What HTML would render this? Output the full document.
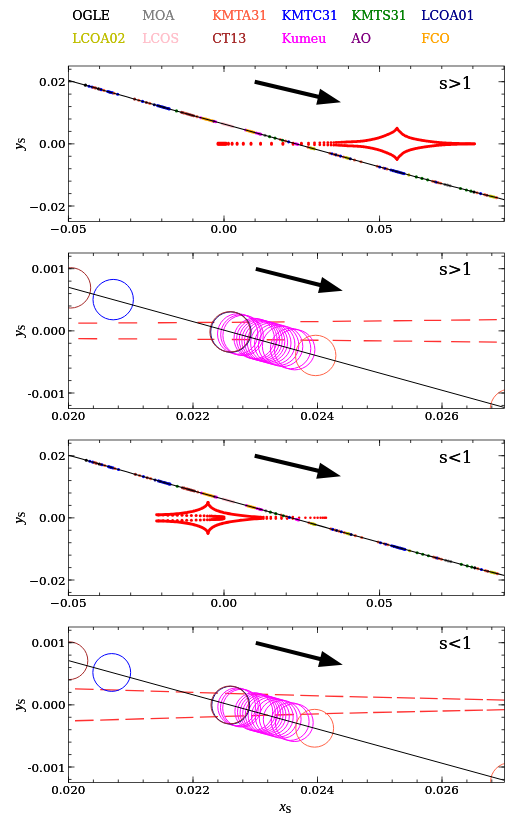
<!DOCTYPE html>
<html lang="en"><head><meta charset="utf-8"><title>Source trajectory and caustics</title>
<style>
html,body{margin:0;padding:0;background:#fff;}
body{width:531px;height:824px;overflow:hidden;}
svg{display:block;font-family:'DejaVu Serif','Liberation Serif',serif;}
</style></head><body>
<svg width="531" height="824" viewBox="0 0 531 824">
<rect width="531" height="824" fill="#fff"/>
<g id="legend">
</g>
<defs>
<filter id="bold" x="-2%" y="-2%" width="104%" height="104%" color-interpolation-filters="sRGB"><feOffset dx="0.45" dy="0" result="o"/><feMerge><feMergeNode in="SourceGraphic"/><feMergeNode in="o"/></feMerge></filter>
<clipPath id="c0"><rect x="68.5" y="66.0" width="436.0" height="155.5"/></clipPath>
<clipPath id="c1"><rect x="68.5" y="253.0" width="436.0" height="155.5"/></clipPath>
<clipPath id="c2"><rect x="68.5" y="440.0" width="436.0" height="155.5"/></clipPath>
<clipPath id="c3"><rect x="68.5" y="627.0" width="436.0" height="155.5"/></clipPath>
</defs>
<g id="panel0">
<circle cx="218" cy="143.25" r="1.4" fill="#ff0000"/>
<circle cx="218" cy="144.45" r="1.4" fill="#ff0000"/>
<circle cx="219" cy="143.25" r="1.4" fill="#ff0000"/>
<circle cx="219" cy="144.45" r="1.4" fill="#ff0000"/>
<circle cx="220" cy="143.25" r="1.4" fill="#ff0000"/>
<circle cx="220" cy="144.45" r="1.4" fill="#ff0000"/>
<circle cx="221" cy="143.25" r="1.4" fill="#ff0000"/>
<circle cx="221" cy="144.45" r="1.4" fill="#ff0000"/>
<circle cx="222" cy="143.25" r="1.4" fill="#ff0000"/>
<circle cx="222" cy="144.45" r="1.4" fill="#ff0000"/>
<circle cx="223" cy="143.25" r="1.4" fill="#ff0000"/>
<circle cx="223" cy="144.45" r="1.4" fill="#ff0000"/>
<circle cx="224" cy="143.25" r="1.4" fill="#ff0000"/>
<circle cx="224" cy="144.45" r="1.4" fill="#ff0000"/>
<circle cx="225" cy="143.25" r="1.4" fill="#ff0000"/>
<circle cx="225" cy="144.45" r="1.4" fill="#ff0000"/>
<circle cx="226" cy="143.25" r="1.4" fill="#ff0000"/>
<circle cx="226" cy="144.45" r="1.4" fill="#ff0000"/>
<circle cx="228.4" cy="143.25" r="1.4" fill="#ff0000"/>
<circle cx="228.4" cy="144.45" r="1.4" fill="#ff0000"/>
<circle cx="232.1" cy="143.25" r="1.4" fill="#ff0000"/>
<circle cx="232.1" cy="144.45" r="1.4" fill="#ff0000"/>
<circle cx="237.1" cy="143.25" r="1.4" fill="#ff0000"/>
<circle cx="237.1" cy="144.45" r="1.4" fill="#ff0000"/>
<circle cx="243.3" cy="143.25" r="1.4" fill="#ff0000"/>
<circle cx="243.3" cy="144.45" r="1.4" fill="#ff0000"/>
<circle cx="251" cy="143.25" r="1.4" fill="#ff0000"/>
<circle cx="251" cy="144.45" r="1.4" fill="#ff0000"/>
<circle cx="260.6" cy="143.25" r="1.4" fill="#ff0000"/>
<circle cx="260.6" cy="144.45" r="1.4" fill="#ff0000"/>
<circle cx="271.5" cy="143.25" r="1.4" fill="#ff0000"/>
<circle cx="271.5" cy="144.45" r="1.4" fill="#ff0000"/>
<circle cx="282.9" cy="143.25" r="1.4" fill="#ff0000"/>
<circle cx="282.9" cy="144.45" r="1.4" fill="#ff0000"/>
<circle cx="293.1" cy="143.25" r="1.4" fill="#ff0000"/>
<circle cx="293.1" cy="144.45" r="1.4" fill="#ff0000"/>
<circle cx="301.4" cy="143.24" r="1.4" fill="#ff0000"/>
<circle cx="301.4" cy="144.46" r="1.4" fill="#ff0000"/>
<circle cx="308.5" cy="143.08" r="1.4" fill="#ff0000"/>
<circle cx="308.5" cy="144.62" r="1.4" fill="#ff0000"/>
<circle cx="314.5" cy="142.96" r="1.4" fill="#ff0000"/>
<circle cx="314.5" cy="144.74" r="1.4" fill="#ff0000"/>
<circle cx="319.8" cy="142.85" r="1.4" fill="#ff0000"/>
<circle cx="319.8" cy="144.85" r="1.4" fill="#ff0000"/>
<circle cx="324" cy="142.77" r="1.4" fill="#ff0000"/>
<circle cx="324" cy="144.93" r="1.4" fill="#ff0000"/>
<circle cx="327.8" cy="142.7" r="1.4" fill="#ff0000"/>
<circle cx="327.8" cy="145" r="1.4" fill="#ff0000"/>
<circle cx="331" cy="142.63" r="1.4" fill="#ff0000"/>
<circle cx="331" cy="145.07" r="1.4" fill="#ff0000"/>
<circle cx="333.8" cy="142.56" r="1.4" fill="#ff0000"/>
<circle cx="333.8" cy="145.14" r="1.4" fill="#ff0000"/>
<circle cx="336.1" cy="142.48" r="1.4" fill="#ff0000"/>
<circle cx="336.1" cy="145.22" r="1.4" fill="#ff0000"/>
<circle cx="338.1" cy="142.39" r="1.4" fill="#ff0000"/>
<circle cx="338.1" cy="145.31" r="1.4" fill="#ff0000"/>
<circle cx="339.9" cy="142.31" r="1.4" fill="#ff0000"/>
<circle cx="339.9" cy="145.39" r="1.4" fill="#ff0000"/>
<circle cx="341.5" cy="142.23" r="1.4" fill="#ff0000"/>
<circle cx="341.5" cy="145.47" r="1.4" fill="#ff0000"/>
<circle cx="343" cy="142.15" r="1.4" fill="#ff0000"/>
<circle cx="343" cy="145.55" r="1.4" fill="#ff0000"/>
<circle cx="344.4" cy="142.08" r="1.4" fill="#ff0000"/>
<circle cx="344.4" cy="145.62" r="1.4" fill="#ff0000"/>
<polyline fill="none" stroke="#ff0000" stroke-width="2.8" stroke-linecap="round" stroke-linejoin="round" points="345,142.05 345.5,142.03 346,142 346.5,141.98 347,141.96 347.5,141.94 348,141.92 348.5,141.9 349,141.88 349.5,141.86 350,141.84 350.5,141.81 351,141.79 351.5,141.77 352,141.75 352.5,141.73 353,141.71 353.5,141.68 354,141.66 354.5,141.64 355,141.61 355.5,141.59 356,141.56 356.5,141.53 357,141.5 357.5,141.47 358,141.44 358.5,141.41 359,141.37 359.5,141.34 360,141.3 360.5,141.26 361,141.22 361.5,141.17 362,141.12 362.5,141.06 363,141 363.5,140.94 364,140.87 364.5,140.8 365,140.73 365.5,140.66 366,140.58 366.5,140.5 367,140.42 367.5,140.33 368,140.24 368.5,140.15 369,140.06 369.5,139.96 370,139.86 370.5,139.77 371,139.66 371.5,139.56 372,139.46 372.5,139.35 373,139.24 373.5,139.13 374,139.02 374.5,138.91 375,138.8 375.5,138.68 376,138.56 376.5,138.44 377,138.31 377.5,138.17 378,138.03 378.5,137.88 379,137.73 379.5,137.58 380,137.42 380.5,137.26 381,137.09 381.5,136.92 382,136.75 382.5,136.57 383,136.39 383.5,136.2 384,136.01 384.5,135.82 385,135.63 385.5,135.43 386,135.23 386.5,135.03 387,134.82 387.5,134.62 388,134.41 388.5,134.2 389,133.98 389.5,133.77 390,133.55 390.5,133.33 391,133.09 391.5,132.83 392,132.56 392.5,132.28 393,131.97 393.5,131.65 394,131.31 394.5,130.95 395,130.53 395.5,130.02 396,129.46 396.5,128.89 397,128.35"/>
<polyline fill="none" stroke="#ff0000" stroke-width="2.8" stroke-linecap="round" stroke-linejoin="round" points="397,128.35 397.5,129.03 398,129.7 398.5,130.33 399,130.88 399.5,131.38 400,131.85 400.5,132.32 401,132.8 401.5,133.28 402,133.74 402.5,134.16 403,134.54 403.5,134.85 404,135.12 404.5,135.39 405,135.64 405.5,135.89 406,136.13 406.5,136.36 407,136.58 407.5,136.79 408,137 408.5,137.19 409,137.38 409.5,137.56 410,137.72 410.5,137.88 411,138.03 411.5,138.17 412,138.3 412.5,138.42 413,138.54 413.5,138.66 414,138.78 414.5,138.89 415,139 415.5,139.11 416,139.22 416.5,139.32 417,139.42 417.5,139.52 418,139.62 418.5,139.72 419,139.81 419.5,139.9 420,139.99 420.5,140.08 421,140.17 421.5,140.25 422,140.34 422.5,140.42 423,140.5 423.5,140.58 424,140.65 424.5,140.73 425,140.8 425.5,140.87 426,140.95 426.5,141.02 427,141.08 427.5,141.15 428,141.22 428.5,141.29 429,141.35 429.5,141.41 430,141.48 430.5,141.54 431,141.6 431.5,141.66 432,141.73 432.5,141.79 433,141.85 433.5,141.91 434,141.96 434.5,142.02 435,142.08 435.5,142.13 436,142.19 436.5,142.24 437,142.29 437.5,142.34 438,142.39 438.5,142.44 439,142.49 439.5,142.54 440,142.58 440.5,142.63 441,142.67 441.5,142.71 442,142.75 442.5,142.79 443,142.82 443.5,142.86 444,142.89 444.5,142.92 445,142.95 445.5,142.98 446,143.01 446.5,143.03 447,143.06 447.5,143.08 448,143.11 448.5,143.13 449,143.16 449.5,143.18 450,143.2 450.5,143.22 451,143.25 451.5,143.27 452,143.29 452.5,143.31 453,143.33 453.5,143.34 454,143.36 454.5,143.38 455,143.4 455.5,143.41 456,143.43 456.5,143.45 457,143.46 457.5,143.48 458,143.49 458.5,143.51 459,143.52 459.5,143.54 460,143.55 460.5,143.56 461,143.58 461.5,143.59 462,143.6 462.5,143.61 463,143.62 463.5,143.64 464,143.65 464.5,143.66 465,143.67 465.5,143.68 466,143.69 466.5,143.7 467,143.71 467.5,143.72 468,143.73 468.5,143.74 469,143.74 469.5,143.75 470,143.76 470.5,143.77 471,143.78 471.5,143.79 472,143.8 472.5,143.81 473,143.82 473.5,143.83 474,143.84 474.5,143.85"/>
<polyline fill="none" stroke="#ff0000" stroke-width="2.8" stroke-linecap="round" stroke-linejoin="round" points="345,145.65 345.5,145.67 346,145.7 346.5,145.72 347,145.74 347.5,145.76 348,145.78 348.5,145.8 349,145.82 349.5,145.84 350,145.86 350.5,145.89 351,145.91 351.5,145.93 352,145.95 352.5,145.97 353,145.99 353.5,146.02 354,146.04 354.5,146.06 355,146.09 355.5,146.11 356,146.14 356.5,146.17 357,146.2 357.5,146.23 358,146.26 358.5,146.29 359,146.33 359.5,146.36 360,146.4 360.5,146.44 361,146.48 361.5,146.53 362,146.58 362.5,146.64 363,146.7 363.5,146.76 364,146.83 364.5,146.9 365,146.97 365.5,147.04 366,147.12 366.5,147.2 367,147.28 367.5,147.37 368,147.46 368.5,147.55 369,147.64 369.5,147.74 370,147.84 370.5,147.93 371,148.04 371.5,148.14 372,148.24 372.5,148.35 373,148.46 373.5,148.57 374,148.68 374.5,148.79 375,148.9 375.5,149.02 376,149.14 376.5,149.26 377,149.39 377.5,149.53 378,149.67 378.5,149.82 379,149.97 379.5,150.12 380,150.28 380.5,150.44 381,150.61 381.5,150.78 382,150.95 382.5,151.13 383,151.31 383.5,151.5 384,151.69 384.5,151.88 385,152.07 385.5,152.27 386,152.47 386.5,152.67 387,152.88 387.5,153.08 388,153.29 388.5,153.5 389,153.72 389.5,153.93 390,154.15 390.5,154.37 391,154.61 391.5,154.87 392,155.14 392.5,155.42 393,155.73 393.5,156.05 394,156.39 394.5,156.75 395,157.17 395.5,157.68 396,158.24 396.5,158.81 397,159.35"/>
<polyline fill="none" stroke="#ff0000" stroke-width="2.8" stroke-linecap="round" stroke-linejoin="round" points="397,159.35 397.5,158.67 398,158 398.5,157.37 399,156.82 399.5,156.32 400,155.85 400.5,155.38 401,154.9 401.5,154.42 402,153.96 402.5,153.54 403,153.16 403.5,152.85 404,152.58 404.5,152.31 405,152.06 405.5,151.81 406,151.57 406.5,151.34 407,151.12 407.5,150.91 408,150.7 408.5,150.51 409,150.32 409.5,150.14 410,149.98 410.5,149.82 411,149.67 411.5,149.53 412,149.4 412.5,149.28 413,149.16 413.5,149.04 414,148.92 414.5,148.81 415,148.7 415.5,148.59 416,148.48 416.5,148.38 417,148.28 417.5,148.18 418,148.08 418.5,147.98 419,147.89 419.5,147.8 420,147.71 420.5,147.62 421,147.53 421.5,147.45 422,147.36 422.5,147.28 423,147.2 423.5,147.12 424,147.05 424.5,146.97 425,146.9 425.5,146.83 426,146.75 426.5,146.68 427,146.62 427.5,146.55 428,146.48 428.5,146.41 429,146.35 429.5,146.29 430,146.22 430.5,146.16 431,146.1 431.5,146.04 432,145.97 432.5,145.91 433,145.85 433.5,145.79 434,145.74 434.5,145.68 435,145.62 435.5,145.57 436,145.51 436.5,145.46 437,145.41 437.5,145.36 438,145.31 438.5,145.26 439,145.21 439.5,145.16 440,145.12 440.5,145.07 441,145.03 441.5,144.99 442,144.95 442.5,144.91 443,144.88 443.5,144.84 444,144.81 444.5,144.78 445,144.75 445.5,144.72 446,144.69 446.5,144.67 447,144.64 447.5,144.62 448,144.59 448.5,144.57 449,144.54 449.5,144.52 450,144.5 450.5,144.48 451,144.45 451.5,144.43 452,144.41 452.5,144.39 453,144.37 453.5,144.36 454,144.34 454.5,144.32 455,144.3 455.5,144.29 456,144.27 456.5,144.25 457,144.24 457.5,144.22 458,144.21 458.5,144.19 459,144.18 459.5,144.16 460,144.15 460.5,144.14 461,144.12 461.5,144.11 462,144.1 462.5,144.09 463,144.08 463.5,144.06 464,144.05 464.5,144.04 465,144.03 465.5,144.02 466,144.01 466.5,144 467,143.99 467.5,143.98 468,143.97 468.5,143.96 469,143.96 469.5,143.95 470,143.94 470.5,143.93 471,143.92 471.5,143.91 472,143.9 472.5,143.89 473,143.88 473.5,143.87 474,143.86 474.5,143.85"/>
<g clip-path="url(#c0)">
<circle cx="85.5" cy="85.17" r="1.55" fill="#000000"/>
<circle cx="89.1" cy="86.19" r="1.55" fill="#0000ff"/>
<circle cx="92" cy="87.01" r="1.55" fill="#0000ff"/>
<circle cx="93.5" cy="87.44" r="1.55" fill="#a52a2a"/>
<circle cx="94.6" cy="87.75" r="1.55" fill="#ff6347"/>
<circle cx="95.7" cy="88.07" r="1.55" fill="#a52a2a"/>
<circle cx="98.5" cy="88.86" r="1.55" fill="#000000"/>
<circle cx="100.2" cy="89.34" r="1.55" fill="#a52a2a"/>
<circle cx="101.2" cy="89.63" r="1.55" fill="#0000ff"/>
<circle cx="103.9" cy="90.4" r="1.55" fill="#ff6347"/>
<circle cx="107.8" cy="91.5" r="1.55" fill="#0000ff"/>
<circle cx="109" cy="91.85" r="1.55" fill="#0000ff"/>
<circle cx="110.2" cy="92.19" r="1.55" fill="#00008b"/>
<circle cx="111.4" cy="92.53" r="1.55" fill="#0000ff"/>
<circle cx="112.6" cy="92.87" r="1.55" fill="#0000ff"/>
<circle cx="114.1" cy="93.3" r="1.55" fill="#ff6347"/>
<circle cx="117.7" cy="94.32" r="1.55" fill="#0000ff"/>
<circle cx="134.6" cy="99.12" r="1.55" fill="#a52a2a"/>
<circle cx="138.8" cy="100.31" r="1.55" fill="#ff6347"/>
<circle cx="142.6" cy="101.38" r="1.55" fill="#0000ff"/>
<circle cx="146.4" cy="102.46" r="1.55" fill="#a52a2a"/>
<circle cx="149.8" cy="103.42" r="1.55" fill="#ff6347"/>
<circle cx="154.3" cy="104.69" r="1.55" fill="#00008b"/>
<circle cx="157.7" cy="105.65" r="1.55" fill="#0000ff"/>
<circle cx="159.2" cy="106.07" r="1.55" fill="#00008b"/>
<circle cx="160.7" cy="106.49" r="1.55" fill="#00008b"/>
<circle cx="162.2" cy="106.91" r="1.55" fill="#0000ff"/>
<circle cx="163.7" cy="107.33" r="1.55" fill="#00008b"/>
<circle cx="165.2" cy="107.76" r="1.55" fill="#00008b"/>
<circle cx="166.7" cy="108.18" r="1.55" fill="#0000ff"/>
<circle cx="168.2" cy="108.6" r="1.55" fill="#00008b"/>
<circle cx="169.2" cy="108.88" r="1.55" fill="#0000ff"/>
<circle cx="176.5" cy="110.92" r="1.55" fill="#008000"/>
<circle cx="181.7" cy="112.37" r="1.55" fill="#a52a2a"/>
<circle cx="183.4" cy="112.85" r="1.55" fill="#a52a2a"/>
<circle cx="185.1" cy="113.32" r="1.55" fill="#ff6347"/>
<circle cx="186.8" cy="113.8" r="1.55" fill="#a52a2a"/>
<circle cx="188.5" cy="114.27" r="1.55" fill="#a52a2a"/>
<circle cx="190.2" cy="114.74" r="1.55" fill="#a52a2a"/>
<circle cx="191.9" cy="115.21" r="1.55" fill="#a52a2a"/>
<circle cx="193.6" cy="115.69" r="1.55" fill="#a52a2a"/>
<circle cx="197" cy="116.63" r="1.55" fill="#ff6347"/>
<circle cx="200.8" cy="117.69" r="1.55" fill="#ff00ff"/>
<circle cx="202.8" cy="118.24" r="1.55" fill="#ffa500"/>
<circle cx="204.4" cy="118.68" r="1.55" fill="#ffa500"/>
<circle cx="206" cy="119.13" r="1.55" fill="#ffa500"/>
<circle cx="207.6" cy="119.57" r="1.55" fill="#ffa500"/>
<circle cx="209.2" cy="120.01" r="1.55" fill="#ffa500"/>
<circle cx="210.8" cy="120.45" r="1.55" fill="#ffa500"/>
<circle cx="212.4" cy="120.9" r="1.55" fill="#ffa500"/>
<circle cx="214" cy="121.34" r="1.55" fill="#800080"/>
<circle cx="215.6" cy="121.78" r="1.55" fill="#ff00ff"/>
<circle cx="222.4" cy="123.66" r="1.55" fill="#ffc0cb"/>
<circle cx="224.1" cy="124.13" r="1.55" fill="#ffc0cb"/>
<circle cx="225.8" cy="124.6" r="1.55" fill="#ffc0cb"/>
<circle cx="227.5" cy="125.06" r="1.55" fill="#ffc0cb"/>
<circle cx="229.2" cy="125.53" r="1.55" fill="#ffc0cb"/>
<circle cx="230.9" cy="126" r="1.55" fill="#ffc0cb"/>
<circle cx="232.6" cy="126.47" r="1.55" fill="#ffc0cb"/>
<circle cx="245.7" cy="130.07" r="1.55" fill="#ff00ff"/>
<circle cx="247.2" cy="130.48" r="1.55" fill="#ffa500"/>
<circle cx="248.9" cy="130.95" r="1.55" fill="#ffa500"/>
<circle cx="250.6" cy="131.42" r="1.55" fill="#ffa500"/>
<circle cx="252.3" cy="131.88" r="1.55" fill="#ffa500"/>
<circle cx="254" cy="132.35" r="1.55" fill="#ffa500"/>
<circle cx="256.3" cy="132.98" r="1.55" fill="#ff00ff"/>
<circle cx="258.3" cy="133.53" r="1.55" fill="#ff00ff"/>
<circle cx="260" cy="134" r="1.55" fill="#800080"/>
<circle cx="260.9" cy="134.24" r="1.55" fill="#ff00ff"/>
<circle cx="265" cy="135.37" r="1.55" fill="#808080"/>
<circle cx="269.6" cy="136.63" r="1.55" fill="#008000"/>
<circle cx="275" cy="138.11" r="1.55" fill="#008000"/>
<circle cx="280.3" cy="139.56" r="1.55" fill="#ff6347"/>
<circle cx="282.6" cy="140.19" r="1.55" fill="#008000"/>
<circle cx="285.6" cy="141.01" r="1.55" fill="#ff6347"/>
<circle cx="288.6" cy="141.84" r="1.55" fill="#0000ff"/>
<circle cx="295.4" cy="143.7" r="1.55" fill="#ff00ff"/>
<circle cx="296.6" cy="144.03" r="1.55" fill="#ff00ff"/>
<circle cx="297.7" cy="144.33" r="1.55" fill="#ff00ff"/>
<circle cx="308.2" cy="147.21" r="1.55" fill="#ff6347"/>
<circle cx="310.5" cy="147.84" r="1.55" fill="#bfbf00"/>
<circle cx="311.8" cy="148.2" r="1.55" fill="#bfbf00"/>
<circle cx="313" cy="148.53" r="1.55" fill="#bfbf00"/>
<circle cx="314.2" cy="148.86" r="1.55" fill="#bfbf00"/>
<circle cx="330" cy="153.2" r="1.55" fill="#ff6347"/>
<circle cx="332" cy="153.75" r="1.55" fill="#0000ff"/>
<circle cx="334.3" cy="154.38" r="1.55" fill="#ff6347"/>
<circle cx="336" cy="154.85" r="1.55" fill="#00008b"/>
<circle cx="338.3" cy="155.49" r="1.55" fill="#ff6347"/>
<circle cx="340.5" cy="156.1" r="1.55" fill="#0000ff"/>
<circle cx="343.6" cy="156.95" r="1.55" fill="#ff6347"/>
<circle cx="346" cy="157.62" r="1.55" fill="#bfbf00"/>
<circle cx="347.3" cy="157.98" r="1.55" fill="#bfbf00"/>
<circle cx="348.5" cy="158.31" r="1.55" fill="#bfbf00"/>
<circle cx="350.3" cy="158.81" r="1.55" fill="#00008b"/>
<circle cx="354.5" cy="159.98" r="1.55" fill="#ff6347"/>
<circle cx="361" cy="161.78" r="1.55" fill="#ff6347"/>
<circle cx="377.4" cy="166.31" r="1.55" fill="#ff6347"/>
<circle cx="379.7" cy="166.95" r="1.55" fill="#0000ff"/>
<circle cx="383.5" cy="167.99" r="1.55" fill="#ff6347"/>
<circle cx="385.2" cy="168.46" r="1.55" fill="#0000ff"/>
<circle cx="387" cy="168.96" r="1.55" fill="#ff6347"/>
<circle cx="391" cy="170.05" r="1.55" fill="#0000ff"/>
<circle cx="393" cy="170.6" r="1.55" fill="#00008b"/>
<circle cx="394.6" cy="171.03" r="1.55" fill="#0000ff"/>
<circle cx="396.2" cy="171.47" r="1.55" fill="#00008b"/>
<circle cx="397.8" cy="171.91" r="1.55" fill="#00008b"/>
<circle cx="399.4" cy="172.34" r="1.55" fill="#0000ff"/>
<circle cx="401" cy="172.77" r="1.55" fill="#00008b"/>
<circle cx="402.6" cy="173.21" r="1.55" fill="#00008b"/>
<circle cx="404" cy="173.59" r="1.55" fill="#0000ff"/>
<circle cx="408.8" cy="174.88" r="1.55" fill="#bfbf00"/>
<circle cx="416.3" cy="176.88" r="1.55" fill="#008000"/>
<circle cx="422" cy="178.4" r="1.55" fill="#008000"/>
<circle cx="427.6" cy="179.87" r="1.55" fill="#008000"/>
<circle cx="432.8" cy="181.24" r="1.55" fill="#ff6347"/>
<circle cx="435" cy="181.82" r="1.55" fill="#a52a2a"/>
<circle cx="436.6" cy="182.24" r="1.55" fill="#0000ff"/>
<circle cx="438.2" cy="182.65" r="1.55" fill="#ff6347"/>
<circle cx="440.7" cy="183.31" r="1.55" fill="#ff6347"/>
<circle cx="445" cy="184.43" r="1.55" fill="#808080"/>
<circle cx="447.5" cy="185.08" r="1.55" fill="#808080"/>
<circle cx="450" cy="185.73" r="1.55" fill="#808080"/>
<circle cx="460.5" cy="188.44" r="1.55" fill="#008000"/>
<circle cx="466.4" cy="189.97" r="1.55" fill="#008000"/>
<circle cx="471" cy="191.16" r="1.55" fill="#008000"/>
<circle cx="474" cy="191.93" r="1.55" fill="#000000"/>
<circle cx="477" cy="192.7" r="1.55" fill="#ff6347"/>
<circle cx="480.6" cy="193.62" r="1.55" fill="#0000ff"/>
<circle cx="484.7" cy="194.67" r="1.55" fill="#ff6347"/>
<circle cx="487" cy="195.25" r="1.55" fill="#a52a2a"/>
<circle cx="490" cy="196.01" r="1.55" fill="#bfbf00"/>
<circle cx="491.4" cy="196.37" r="1.55" fill="#bfbf00"/>
<circle cx="492.8" cy="196.72" r="1.55" fill="#bfbf00"/>
<circle cx="494.2" cy="197.08" r="1.55" fill="#bfbf00"/>
<circle cx="496.5" cy="197.66" r="1.55" fill="#ff6347"/>
<polyline fill="none" stroke="#000" stroke-width="1.05" points="68.5,80.35 75.77,82.41 83.03,84.47 90.3,86.53 97.57,88.6 104.83,90.66 112.1,92.73 119.37,94.79 126.63,96.86 133.9,98.92 141.17,100.98 148.43,103.03 155.7,105.08 162.97,107.13 170.23,109.17 177.5,111.2 184.77,113.23 192.03,115.25 199.3,117.27 206.57,119.28 213.83,121.29 221.1,123.3 228.37,125.3 235.63,127.3 242.9,129.3 250.17,131.3 257.43,133.29 264.7,135.28 271.97,137.28 279.23,139.27 286.5,141.26 293.77,143.25 301.03,145.24 308.3,147.24 315.57,149.23 322.83,151.23 330.1,153.23 337.37,155.23 344.63,157.24 351.9,159.25 359.17,161.27 366.43,163.28 373.7,165.29 380.97,167.3 388.23,169.29 395.5,171.28 402.77,173.25 410.03,175.21 417.3,177.15 424.57,179.07 431.83,180.99 439.1,182.89 446.37,184.78 453.63,186.67 460.9,188.55 468.17,190.43 475.43,192.3 482.7,194.16 489.97,196 497.23,197.85 504.5,199.7"/>
</g>
<polygon fill="#000" points="254.24,83.65 317.67,98.71 316.22,104.84 341,102.2 320.05,88.69 318.6,94.82 255.16,79.75"/>
<rect x="68.5" y="66.0" width="436.0" height="155.5" fill="none" stroke="#000" stroke-width="0.72"/>
<line x1="68.45" y1="221.5" x2="68.45" y2="218.5" stroke="#000" stroke-width="0.8" />
<line x1="68.45" y1="66" x2="68.45" y2="69" stroke="#000" stroke-width="0.8" />
<line x1="99.56" y1="221.5" x2="99.56" y2="218.5" stroke="#000" stroke-width="0.8" />
<line x1="99.56" y1="66" x2="99.56" y2="69" stroke="#000" stroke-width="0.8" />
<line x1="130.67" y1="221.5" x2="130.67" y2="218.5" stroke="#000" stroke-width="0.8" />
<line x1="130.67" y1="66" x2="130.67" y2="69" stroke="#000" stroke-width="0.8" />
<line x1="161.78" y1="221.5" x2="161.78" y2="218.5" stroke="#000" stroke-width="0.8" />
<line x1="161.78" y1="66" x2="161.78" y2="69" stroke="#000" stroke-width="0.8" />
<line x1="192.89" y1="221.5" x2="192.89" y2="218.5" stroke="#000" stroke-width="0.8" />
<line x1="192.89" y1="66" x2="192.89" y2="69" stroke="#000" stroke-width="0.8" />
<line x1="224" y1="221.5" x2="224" y2="218.5" stroke="#000" stroke-width="0.8" />
<line x1="224" y1="66" x2="224" y2="69" stroke="#000" stroke-width="0.8" />
<line x1="255.11" y1="221.5" x2="255.11" y2="218.5" stroke="#000" stroke-width="0.8" />
<line x1="255.11" y1="66" x2="255.11" y2="69" stroke="#000" stroke-width="0.8" />
<line x1="286.22" y1="221.5" x2="286.22" y2="218.5" stroke="#000" stroke-width="0.8" />
<line x1="286.22" y1="66" x2="286.22" y2="69" stroke="#000" stroke-width="0.8" />
<line x1="317.33" y1="221.5" x2="317.33" y2="218.5" stroke="#000" stroke-width="0.8" />
<line x1="317.33" y1="66" x2="317.33" y2="69" stroke="#000" stroke-width="0.8" />
<line x1="348.44" y1="221.5" x2="348.44" y2="218.5" stroke="#000" stroke-width="0.8" />
<line x1="348.44" y1="66" x2="348.44" y2="69" stroke="#000" stroke-width="0.8" />
<line x1="379.55" y1="221.5" x2="379.55" y2="218.5" stroke="#000" stroke-width="0.8" />
<line x1="379.55" y1="66" x2="379.55" y2="69" stroke="#000" stroke-width="0.8" />
<line x1="410.66" y1="221.5" x2="410.66" y2="218.5" stroke="#000" stroke-width="0.8" />
<line x1="410.66" y1="66" x2="410.66" y2="69" stroke="#000" stroke-width="0.8" />
<line x1="441.77" y1="221.5" x2="441.77" y2="218.5" stroke="#000" stroke-width="0.8" />
<line x1="441.77" y1="66" x2="441.77" y2="69" stroke="#000" stroke-width="0.8" />
<line x1="472.88" y1="221.5" x2="472.88" y2="218.5" stroke="#000" stroke-width="0.8" />
<line x1="472.88" y1="66" x2="472.88" y2="69" stroke="#000" stroke-width="0.8" />
<line x1="503.99" y1="221.5" x2="503.99" y2="218.5" stroke="#000" stroke-width="0.8" />
<line x1="503.99" y1="66" x2="503.99" y2="69" stroke="#000" stroke-width="0.8" />
<line x1="68.45" y1="221.5" x2="68.45" y2="215.5" stroke="#000" stroke-width="0.75" />
<line x1="68.45" y1="66" x2="68.45" y2="72" stroke="#000" stroke-width="0.75" />
<line x1="224" y1="221.5" x2="224" y2="215.5" stroke="#000" stroke-width="0.75" />
<line x1="224" y1="66" x2="224" y2="72" stroke="#000" stroke-width="0.75" />
<line x1="379.55" y1="221.5" x2="379.55" y2="215.5" stroke="#000" stroke-width="0.75" />
<line x1="379.55" y1="66" x2="379.55" y2="72" stroke="#000" stroke-width="0.75" />
<line x1="68.5" y1="218.44" x2="71.5" y2="218.44" stroke="#000" stroke-width="0.8" />
<line x1="504.5" y1="218.44" x2="501.5" y2="218.44" stroke="#000" stroke-width="0.8" />
<line x1="68.5" y1="206.01" x2="71.5" y2="206.01" stroke="#000" stroke-width="0.8" />
<line x1="504.5" y1="206.01" x2="501.5" y2="206.01" stroke="#000" stroke-width="0.8" />
<line x1="68.5" y1="193.58" x2="71.5" y2="193.58" stroke="#000" stroke-width="0.8" />
<line x1="504.5" y1="193.58" x2="501.5" y2="193.58" stroke="#000" stroke-width="0.8" />
<line x1="68.5" y1="181.15" x2="71.5" y2="181.15" stroke="#000" stroke-width="0.8" />
<line x1="504.5" y1="181.15" x2="501.5" y2="181.15" stroke="#000" stroke-width="0.8" />
<line x1="68.5" y1="168.71" x2="71.5" y2="168.71" stroke="#000" stroke-width="0.8" />
<line x1="504.5" y1="168.71" x2="501.5" y2="168.71" stroke="#000" stroke-width="0.8" />
<line x1="68.5" y1="156.28" x2="71.5" y2="156.28" stroke="#000" stroke-width="0.8" />
<line x1="504.5" y1="156.28" x2="501.5" y2="156.28" stroke="#000" stroke-width="0.8" />
<line x1="68.5" y1="143.85" x2="71.5" y2="143.85" stroke="#000" stroke-width="0.8" />
<line x1="504.5" y1="143.85" x2="501.5" y2="143.85" stroke="#000" stroke-width="0.8" />
<line x1="68.5" y1="131.42" x2="71.5" y2="131.42" stroke="#000" stroke-width="0.8" />
<line x1="504.5" y1="131.42" x2="501.5" y2="131.42" stroke="#000" stroke-width="0.8" />
<line x1="68.5" y1="118.99" x2="71.5" y2="118.99" stroke="#000" stroke-width="0.8" />
<line x1="504.5" y1="118.99" x2="501.5" y2="118.99" stroke="#000" stroke-width="0.8" />
<line x1="68.5" y1="106.55" x2="71.5" y2="106.55" stroke="#000" stroke-width="0.8" />
<line x1="504.5" y1="106.55" x2="501.5" y2="106.55" stroke="#000" stroke-width="0.8" />
<line x1="68.5" y1="94.12" x2="71.5" y2="94.12" stroke="#000" stroke-width="0.8" />
<line x1="504.5" y1="94.12" x2="501.5" y2="94.12" stroke="#000" stroke-width="0.8" />
<line x1="68.5" y1="81.69" x2="71.5" y2="81.69" stroke="#000" stroke-width="0.8" />
<line x1="504.5" y1="81.69" x2="501.5" y2="81.69" stroke="#000" stroke-width="0.8" />
<line x1="68.5" y1="69.26" x2="71.5" y2="69.26" stroke="#000" stroke-width="0.8" />
<line x1="504.5" y1="69.26" x2="501.5" y2="69.26" stroke="#000" stroke-width="0.8" />
<line x1="68.5" y1="81.69" x2="74.5" y2="81.69" stroke="#000" stroke-width="0.75" />
<line x1="504.5" y1="81.69" x2="498.5" y2="81.69" stroke="#000" stroke-width="0.75" />
<line x1="68.5" y1="143.85" x2="74.5" y2="143.85" stroke="#000" stroke-width="0.75" />
<line x1="504.5" y1="143.85" x2="498.5" y2="143.85" stroke="#000" stroke-width="0.75" />
<line x1="68.5" y1="206.01" x2="74.5" y2="206.01" stroke="#000" stroke-width="0.75" />
<line x1="504.5" y1="206.01" x2="498.5" y2="206.01" stroke="#000" stroke-width="0.75" />
</g>
<g id="panel2">
<polyline fill="none" stroke="#ff0000" stroke-width="2.9" stroke-linecap="round" stroke-linejoin="round" points="156.6,514.75 158.79,514.73 160.94,514.69 163.06,514.63 165.14,514.56 167.19,514.47 169.2,514.36 171.16,514.24 173.09,514.1 174.98,513.95 176.82,513.78 178.63,513.6 180.38,513.4 182.1,513.19 183.77,512.96 185.39,512.72 186.96,512.47 188.49,512.19 189.96,511.91 191.39,511.61 192.76,511.3 194.08,510.97 195.35,510.64 196.57,510.28 197.73,509.92 198.83,509.54 199.88,509.15 200.86,508.75 201.79,508.33 202.66,507.91 203.47,507.47 204.22,507.01 204.9,506.55 205.52,506.08 206.08,505.59 206.57,505.09 206.99,504.59 207.35,504.07 207.63,503.54 207.85,503 208,502.45"/>
<polyline fill="none" stroke="#ff0000" stroke-width="2.9" stroke-linecap="round" stroke-linejoin="round" points="208,502.45 208.18,503.11 208.41,503.74 208.69,504.36 209.03,504.95 209.42,505.53 209.87,506.09 210.37,506.63 210.93,507.15 211.54,507.65 212.22,508.14 212.95,508.61 213.74,509.07 214.59,509.51 215.5,509.93 216.47,510.34 217.5,510.74 218.6,511.12 219.75,511.49 220.97,511.85 222.25,512.2 223.59,512.54 225,512.86 226.48,513.18 228.02,513.48 229.62,513.78 231.29,514.06 233.03,514.34 234.84,514.61 236.71,514.88 238.66,515.13 240.67,515.39 242.75,515.63 244.91,515.87 247.13,516.11 249.43,516.34 251.79,516.57 254.23,516.79 256.75,517.01 259.34,517.23 262,517.45"/>
<polyline fill="none" stroke="#ff0000" stroke-width="2.9" stroke-linecap="round" stroke-linejoin="round" points="156.6,520.95 158.79,520.97 160.94,521.01 163.06,521.07 165.14,521.14 167.19,521.23 169.2,521.34 171.16,521.46 173.09,521.6 174.98,521.75 176.82,521.92 178.63,522.1 180.38,522.3 182.1,522.51 183.77,522.74 185.39,522.98 186.96,523.23 188.49,523.51 189.96,523.79 191.39,524.09 192.76,524.4 194.08,524.73 195.35,525.06 196.57,525.42 197.73,525.78 198.83,526.16 199.88,526.55 200.86,526.95 201.79,527.37 202.66,527.79 203.47,528.23 204.22,528.69 204.9,529.15 205.52,529.62 206.08,530.11 206.57,530.61 206.99,531.11 207.35,531.63 207.63,532.16 207.85,532.7 208,533.25"/>
<polyline fill="none" stroke="#ff0000" stroke-width="2.9" stroke-linecap="round" stroke-linejoin="round" points="208,533.25 208.18,532.59 208.41,531.96 208.69,531.34 209.03,530.75 209.42,530.17 209.87,529.61 210.37,529.07 210.93,528.55 211.54,528.05 212.22,527.56 212.95,527.09 213.74,526.63 214.59,526.19 215.5,525.77 216.47,525.36 217.5,524.96 218.6,524.58 219.75,524.21 220.97,523.85 222.25,523.5 223.59,523.16 225,522.84 226.48,522.52 228.02,522.22 229.62,521.92 231.29,521.64 233.03,521.36 234.84,521.09 236.71,520.82 238.66,520.57 240.67,520.31 242.75,520.07 244.91,519.83 247.13,519.59 249.43,519.36 251.79,519.13 254.23,518.91 256.75,518.69 259.34,518.47 262,518.25"/>
<circle cx="158.5" cy="514.99" r="1.5" fill="#ff0000"/>
<circle cx="158.5" cy="520.71" r="1.5" fill="#ff0000"/>
<circle cx="163.2" cy="515.06" r="1.5" fill="#ff0000"/>
<circle cx="163.2" cy="520.64" r="1.5" fill="#ff0000"/>
<circle cx="167.9" cy="515.14" r="1.5" fill="#ff0000"/>
<circle cx="167.9" cy="520.56" r="1.5" fill="#ff0000"/>
<circle cx="172.6" cy="515.21" r="1.5" fill="#ff0000"/>
<circle cx="172.6" cy="520.49" r="1.5" fill="#ff0000"/>
<circle cx="177.3" cy="515.28" r="1.5" fill="#ff0000"/>
<circle cx="177.3" cy="520.42" r="1.5" fill="#ff0000"/>
<circle cx="182" cy="515.36" r="1.5" fill="#ff0000"/>
<circle cx="182" cy="520.34" r="1.5" fill="#ff0000"/>
<circle cx="186.7" cy="515.43" r="1.5" fill="#ff0000"/>
<circle cx="186.7" cy="520.27" r="1.5" fill="#ff0000"/>
<circle cx="191.4" cy="515.48" r="1.5" fill="#ff0000"/>
<circle cx="191.4" cy="520.22" r="1.5" fill="#ff0000"/>
<circle cx="196.1" cy="515.6" r="1.5" fill="#ff0000"/>
<circle cx="196.1" cy="520.1" r="1.5" fill="#ff0000"/>
<circle cx="200.3" cy="515.72" r="1.5" fill="#ff0000"/>
<circle cx="200.3" cy="519.98" r="1.5" fill="#ff0000"/>
<circle cx="204.1" cy="515.84" r="1.5" fill="#ff0000"/>
<circle cx="204.1" cy="519.86" r="1.5" fill="#ff0000"/>
<circle cx="207.4" cy="515.96" r="1.5" fill="#ff0000"/>
<circle cx="207.4" cy="519.74" r="1.5" fill="#ff0000"/>
<circle cx="209.8" cy="516.05" r="1.5" fill="#ff0000"/>
<circle cx="209.8" cy="519.65" r="1.5" fill="#ff0000"/>
<circle cx="211.6" cy="516.12" r="1.5" fill="#ff0000"/>
<circle cx="211.6" cy="519.58" r="1.5" fill="#ff0000"/>
<circle cx="213" cy="516.19" r="1.5" fill="#ff0000"/>
<circle cx="213" cy="519.51" r="1.5" fill="#ff0000"/>
<circle cx="214.1" cy="516.24" r="1.5" fill="#ff0000"/>
<circle cx="214.1" cy="519.46" r="1.5" fill="#ff0000"/>
<circle cx="215" cy="516.29" r="1.5" fill="#ff0000"/>
<circle cx="215" cy="519.41" r="1.5" fill="#ff0000"/>
<circle cx="215.9" cy="516.34" r="1.5" fill="#ff0000"/>
<circle cx="215.9" cy="519.36" r="1.5" fill="#ff0000"/>
<circle cx="216.8" cy="516.39" r="1.5" fill="#ff0000"/>
<circle cx="216.8" cy="519.31" r="1.5" fill="#ff0000"/>
<circle cx="217.7" cy="516.45" r="1.5" fill="#ff0000"/>
<circle cx="217.7" cy="519.25" r="1.5" fill="#ff0000"/>
<circle cx="218.6" cy="516.51" r="1.5" fill="#ff0000"/>
<circle cx="218.6" cy="519.19" r="1.5" fill="#ff0000"/>
<circle cx="219.5" cy="516.57" r="1.5" fill="#ff0000"/>
<circle cx="219.5" cy="519.13" r="1.5" fill="#ff0000"/>
<circle cx="220.4" cy="516.65" r="1.5" fill="#ff0000"/>
<circle cx="220.4" cy="519.05" r="1.5" fill="#ff0000"/>
<circle cx="221.3" cy="516.73" r="1.5" fill="#ff0000"/>
<circle cx="221.3" cy="518.97" r="1.5" fill="#ff0000"/>
<circle cx="222.2" cy="516.82" r="1.5" fill="#ff0000"/>
<circle cx="222.2" cy="518.88" r="1.5" fill="#ff0000"/>
<circle cx="223.1" cy="516.94" r="1.5" fill="#ff0000"/>
<circle cx="223.1" cy="518.76" r="1.5" fill="#ff0000"/>
<circle cx="224" cy="517.09" r="1.5" fill="#ff0000"/>
<circle cx="224" cy="518.61" r="1.5" fill="#ff0000"/>
<circle cx="260.7" cy="517.1" r="1.3" fill="#ff0000"/>
<circle cx="260.7" cy="518.6" r="1.3" fill="#ff0000"/>
<circle cx="263.4" cy="517.1" r="1.3" fill="#ff0000"/>
<circle cx="263.4" cy="518.6" r="1.3" fill="#ff0000"/>
<circle cx="266.8" cy="517.1" r="1.3" fill="#ff0000"/>
<circle cx="266.8" cy="518.6" r="1.3" fill="#ff0000"/>
<circle cx="270.8" cy="517.1" r="1.3" fill="#ff0000"/>
<circle cx="270.8" cy="518.6" r="1.3" fill="#ff0000"/>
<circle cx="275.8" cy="517.1" r="1.3" fill="#ff0000"/>
<circle cx="275.8" cy="518.6" r="1.3" fill="#ff0000"/>
<circle cx="281.5" cy="517.1" r="1.3" fill="#ff0000"/>
<circle cx="281.5" cy="518.6" r="1.3" fill="#ff0000"/>
<circle cx="287.1" cy="517.1" r="1.3" fill="#ff0000"/>
<circle cx="287.1" cy="518.6" r="1.3" fill="#ff0000"/>
<circle cx="292.8" cy="517.1" r="1.3" fill="#ff0000"/>
<circle cx="292.8" cy="518.6" r="1.3" fill="#ff0000"/>
<circle cx="299.1" cy="517.85" r="1.25" fill="#ff0000"/>
<circle cx="305.4" cy="517.85" r="1.25" fill="#ff0000"/>
<circle cx="310.4" cy="517.85" r="1.25" fill="#ff0000"/>
<circle cx="314.5" cy="517.85" r="1.25" fill="#ff0000"/>
<circle cx="317.6" cy="517.85" r="1.25" fill="#ff0000"/>
<circle cx="320.6" cy="517.85" r="1.25" fill="#ff0000"/>
<circle cx="322.8" cy="517.85" r="1.25" fill="#ff0000"/>
<circle cx="324.6" cy="517.85" r="1.25" fill="#ff0000"/>
<circle cx="326" cy="517.85" r="1.25" fill="#ff0000"/>
<g clip-path="url(#c2)">
<circle cx="86.3" cy="460.28" r="1.55" fill="#000000"/>
<circle cx="89.9" cy="461.31" r="1.55" fill="#0000ff"/>
<circle cx="92.8" cy="462.14" r="1.55" fill="#0000ff"/>
<circle cx="94.3" cy="462.57" r="1.55" fill="#a52a2a"/>
<circle cx="95.4" cy="462.89" r="1.55" fill="#ff6347"/>
<circle cx="96.5" cy="463.2" r="1.55" fill="#a52a2a"/>
<circle cx="99.3" cy="464.01" r="1.55" fill="#000000"/>
<circle cx="101" cy="464.49" r="1.55" fill="#a52a2a"/>
<circle cx="102" cy="464.78" r="1.55" fill="#0000ff"/>
<circle cx="104.7" cy="465.55" r="1.55" fill="#ff6347"/>
<circle cx="108.6" cy="466.67" r="1.55" fill="#0000ff"/>
<circle cx="109.8" cy="467.01" r="1.55" fill="#0000ff"/>
<circle cx="111" cy="467.36" r="1.55" fill="#00008b"/>
<circle cx="112.2" cy="467.7" r="1.55" fill="#0000ff"/>
<circle cx="113.4" cy="468.04" r="1.55" fill="#0000ff"/>
<circle cx="114.9" cy="468.47" r="1.55" fill="#ff6347"/>
<circle cx="118.5" cy="469.5" r="1.55" fill="#0000ff"/>
<circle cx="135.4" cy="474.34" r="1.55" fill="#a52a2a"/>
<circle cx="139.6" cy="475.54" r="1.55" fill="#ff6347"/>
<circle cx="143.4" cy="476.62" r="1.55" fill="#0000ff"/>
<circle cx="147.2" cy="477.7" r="1.55" fill="#a52a2a"/>
<circle cx="150.6" cy="478.67" r="1.55" fill="#ff6347"/>
<circle cx="155.1" cy="479.95" r="1.55" fill="#00008b"/>
<circle cx="158.5" cy="480.92" r="1.55" fill="#0000ff"/>
<circle cx="160" cy="481.34" r="1.55" fill="#00008b"/>
<circle cx="161.5" cy="481.77" r="1.55" fill="#00008b"/>
<circle cx="163" cy="482.19" r="1.55" fill="#0000ff"/>
<circle cx="164.5" cy="482.62" r="1.55" fill="#00008b"/>
<circle cx="166" cy="483.04" r="1.55" fill="#00008b"/>
<circle cx="167.5" cy="483.47" r="1.55" fill="#0000ff"/>
<circle cx="169" cy="483.89" r="1.55" fill="#00008b"/>
<circle cx="170" cy="484.17" r="1.55" fill="#0000ff"/>
<circle cx="177.3" cy="486.23" r="1.55" fill="#008000"/>
<circle cx="182.5" cy="487.7" r="1.55" fill="#a52a2a"/>
<circle cx="184.2" cy="488.17" r="1.55" fill="#a52a2a"/>
<circle cx="185.9" cy="488.65" r="1.55" fill="#ff6347"/>
<circle cx="187.6" cy="489.13" r="1.55" fill="#a52a2a"/>
<circle cx="189.3" cy="489.6" r="1.55" fill="#a52a2a"/>
<circle cx="191" cy="490.08" r="1.55" fill="#a52a2a"/>
<circle cx="192.7" cy="490.56" r="1.55" fill="#a52a2a"/>
<circle cx="194.4" cy="491.03" r="1.55" fill="#a52a2a"/>
<circle cx="197.8" cy="491.98" r="1.55" fill="#ff6347"/>
<circle cx="201.6" cy="493.05" r="1.55" fill="#ff00ff"/>
<circle cx="203.6" cy="493.61" r="1.55" fill="#ffa500"/>
<circle cx="205.2" cy="494.05" r="1.55" fill="#ffa500"/>
<circle cx="206.8" cy="494.5" r="1.55" fill="#ffa500"/>
<circle cx="208.4" cy="494.95" r="1.55" fill="#ffa500"/>
<circle cx="210" cy="495.39" r="1.55" fill="#ffa500"/>
<circle cx="211.6" cy="495.84" r="1.55" fill="#ffa500"/>
<circle cx="213.2" cy="496.28" r="1.55" fill="#ffa500"/>
<circle cx="214.8" cy="496.73" r="1.55" fill="#800080"/>
<circle cx="216.4" cy="497.17" r="1.55" fill="#ff00ff"/>
<circle cx="223.2" cy="499.07" r="1.55" fill="#ffc0cb"/>
<circle cx="224.9" cy="499.54" r="1.55" fill="#ffc0cb"/>
<circle cx="226.6" cy="500.01" r="1.55" fill="#ffc0cb"/>
<circle cx="228.3" cy="500.48" r="1.55" fill="#ffc0cb"/>
<circle cx="230" cy="500.95" r="1.55" fill="#ffc0cb"/>
<circle cx="231.7" cy="501.43" r="1.55" fill="#ffc0cb"/>
<circle cx="233.4" cy="501.9" r="1.55" fill="#ffc0cb"/>
<circle cx="246.5" cy="505.53" r="1.55" fill="#ff00ff"/>
<circle cx="248" cy="505.94" r="1.55" fill="#ffa500"/>
<circle cx="249.7" cy="506.41" r="1.55" fill="#ffa500"/>
<circle cx="251.4" cy="506.88" r="1.55" fill="#ffa500"/>
<circle cx="253.1" cy="507.35" r="1.55" fill="#ffa500"/>
<circle cx="254.8" cy="507.82" r="1.55" fill="#ffa500"/>
<circle cx="257.1" cy="508.46" r="1.55" fill="#ff00ff"/>
<circle cx="259.1" cy="509.01" r="1.55" fill="#ff00ff"/>
<circle cx="260.8" cy="509.48" r="1.55" fill="#800080"/>
<circle cx="261.7" cy="509.73" r="1.55" fill="#ff00ff"/>
<circle cx="265.8" cy="510.87" r="1.55" fill="#808080"/>
<circle cx="270.4" cy="512.14" r="1.55" fill="#008000"/>
<circle cx="275.8" cy="513.63" r="1.55" fill="#008000"/>
<circle cx="281.1" cy="515.09" r="1.55" fill="#ff6347"/>
<circle cx="283.4" cy="515.73" r="1.55" fill="#008000"/>
<circle cx="286.4" cy="516.56" r="1.55" fill="#ff6347"/>
<circle cx="289.4" cy="517.39" r="1.55" fill="#0000ff"/>
<circle cx="296.2" cy="519.27" r="1.55" fill="#ff00ff"/>
<circle cx="297.4" cy="519.6" r="1.55" fill="#ff00ff"/>
<circle cx="298.5" cy="519.9" r="1.55" fill="#ff00ff"/>
<circle cx="309" cy="522.8" r="1.55" fill="#ff6347"/>
<circle cx="311.3" cy="523.44" r="1.55" fill="#bfbf00"/>
<circle cx="312.6" cy="523.8" r="1.55" fill="#bfbf00"/>
<circle cx="313.8" cy="524.13" r="1.55" fill="#bfbf00"/>
<circle cx="315" cy="524.46" r="1.55" fill="#bfbf00"/>
<circle cx="330.8" cy="528.84" r="1.55" fill="#ff6347"/>
<circle cx="332.8" cy="529.4" r="1.55" fill="#0000ff"/>
<circle cx="335.1" cy="530.04" r="1.55" fill="#ff6347"/>
<circle cx="336.8" cy="530.51" r="1.55" fill="#00008b"/>
<circle cx="339.1" cy="531.15" r="1.55" fill="#ff6347"/>
<circle cx="341.3" cy="531.76" r="1.55" fill="#0000ff"/>
<circle cx="344.4" cy="532.63" r="1.55" fill="#ff6347"/>
<circle cx="346.8" cy="533.3" r="1.55" fill="#bfbf00"/>
<circle cx="348.1" cy="533.66" r="1.55" fill="#bfbf00"/>
<circle cx="349.3" cy="534" r="1.55" fill="#bfbf00"/>
<circle cx="351.1" cy="534.5" r="1.55" fill="#00008b"/>
<circle cx="355.3" cy="535.67" r="1.55" fill="#ff6347"/>
<circle cx="361.8" cy="537.49" r="1.55" fill="#ff6347"/>
<circle cx="378.2" cy="542.06" r="1.55" fill="#ff6347"/>
<circle cx="380.5" cy="542.7" r="1.55" fill="#0000ff"/>
<circle cx="384.3" cy="543.75" r="1.55" fill="#ff6347"/>
<circle cx="386" cy="544.22" r="1.55" fill="#0000ff"/>
<circle cx="387.8" cy="544.72" r="1.55" fill="#ff6347"/>
<circle cx="391.8" cy="545.82" r="1.55" fill="#0000ff"/>
<circle cx="393.8" cy="546.37" r="1.55" fill="#00008b"/>
<circle cx="395.4" cy="546.81" r="1.55" fill="#0000ff"/>
<circle cx="397" cy="547.25" r="1.55" fill="#00008b"/>
<circle cx="398.6" cy="547.69" r="1.55" fill="#00008b"/>
<circle cx="400.2" cy="548.13" r="1.55" fill="#0000ff"/>
<circle cx="401.8" cy="548.57" r="1.55" fill="#00008b"/>
<circle cx="403.4" cy="549" r="1.55" fill="#00008b"/>
<circle cx="404.8" cy="549.38" r="1.55" fill="#0000ff"/>
<circle cx="409.6" cy="550.69" r="1.55" fill="#bfbf00"/>
<circle cx="417.1" cy="552.71" r="1.55" fill="#008000"/>
<circle cx="422.8" cy="554.23" r="1.55" fill="#008000"/>
<circle cx="428.4" cy="555.72" r="1.55" fill="#008000"/>
<circle cx="433.6" cy="557.1" r="1.55" fill="#ff6347"/>
<circle cx="435.8" cy="557.68" r="1.55" fill="#a52a2a"/>
<circle cx="437.4" cy="558.1" r="1.55" fill="#0000ff"/>
<circle cx="439" cy="558.52" r="1.55" fill="#ff6347"/>
<circle cx="441.5" cy="559.18" r="1.55" fill="#ff6347"/>
<circle cx="445.8" cy="560.31" r="1.55" fill="#808080"/>
<circle cx="448.3" cy="560.96" r="1.55" fill="#808080"/>
<circle cx="450.8" cy="561.62" r="1.55" fill="#808080"/>
<circle cx="461.3" cy="564.36" r="1.55" fill="#008000"/>
<circle cx="467.2" cy="565.9" r="1.55" fill="#008000"/>
<circle cx="471.8" cy="567.09" r="1.55" fill="#008000"/>
<circle cx="474.8" cy="567.87" r="1.55" fill="#000000"/>
<circle cx="477.8" cy="568.65" r="1.55" fill="#ff6347"/>
<circle cx="481.4" cy="569.57" r="1.55" fill="#0000ff"/>
<circle cx="485.5" cy="570.63" r="1.55" fill="#ff6347"/>
<circle cx="487.8" cy="571.22" r="1.55" fill="#a52a2a"/>
<circle cx="490.8" cy="571.99" r="1.55" fill="#bfbf00"/>
<circle cx="492.2" cy="572.34" r="1.55" fill="#bfbf00"/>
<circle cx="493.6" cy="572.7" r="1.55" fill="#bfbf00"/>
<circle cx="495" cy="573.06" r="1.55" fill="#bfbf00"/>
<circle cx="497.3" cy="573.65" r="1.55" fill="#ff6347"/>
<polyline fill="none" stroke="#000" stroke-width="1.05" points="68.5,455.2 75.77,457.27 83.03,459.35 90.3,461.43 97.57,463.51 104.83,465.59 112.1,467.67 119.37,469.75 126.63,471.83 133.9,473.91 141.17,475.98 148.43,478.05 155.7,480.12 162.97,482.18 170.23,484.24 177.5,486.29 184.77,488.33 192.03,490.37 199.3,492.4 206.57,494.43 213.83,496.46 221.1,498.48 228.37,500.5 235.63,502.52 242.9,504.53 250.17,506.54 257.43,508.55 264.7,510.56 271.97,512.57 279.23,514.58 286.5,516.59 293.77,518.59 301.03,520.6 308.3,522.61 315.57,524.62 322.83,526.63 330.1,528.65 337.37,530.67 344.63,532.69 351.9,534.72 359.17,536.75 366.43,538.78 373.7,540.81 380.97,542.83 388.23,544.84 395.5,546.84 402.77,548.83 410.03,550.8 417.3,552.76 424.57,554.7 431.83,556.63 439.1,558.55 446.37,560.45 453.63,562.36 460.9,564.25 468.17,566.15 475.43,568.04 482.7,569.91 489.97,571.77 497.23,573.63 504.5,575.5"/>
</g>
<polygon fill="#000" points="254.24,457.65 317.67,472.71 316.22,478.84 341,476.2 320.05,462.69 318.6,468.82 255.16,453.75"/>
<rect x="68.5" y="440.0" width="436.0" height="155.5" fill="none" stroke="#000" stroke-width="0.72"/>
<line x1="68.45" y1="595.5" x2="68.45" y2="592.5" stroke="#000" stroke-width="0.8" />
<line x1="68.45" y1="440" x2="68.45" y2="443" stroke="#000" stroke-width="0.8" />
<line x1="99.56" y1="595.5" x2="99.56" y2="592.5" stroke="#000" stroke-width="0.8" />
<line x1="99.56" y1="440" x2="99.56" y2="443" stroke="#000" stroke-width="0.8" />
<line x1="130.67" y1="595.5" x2="130.67" y2="592.5" stroke="#000" stroke-width="0.8" />
<line x1="130.67" y1="440" x2="130.67" y2="443" stroke="#000" stroke-width="0.8" />
<line x1="161.78" y1="595.5" x2="161.78" y2="592.5" stroke="#000" stroke-width="0.8" />
<line x1="161.78" y1="440" x2="161.78" y2="443" stroke="#000" stroke-width="0.8" />
<line x1="192.89" y1="595.5" x2="192.89" y2="592.5" stroke="#000" stroke-width="0.8" />
<line x1="192.89" y1="440" x2="192.89" y2="443" stroke="#000" stroke-width="0.8" />
<line x1="224" y1="595.5" x2="224" y2="592.5" stroke="#000" stroke-width="0.8" />
<line x1="224" y1="440" x2="224" y2="443" stroke="#000" stroke-width="0.8" />
<line x1="255.11" y1="595.5" x2="255.11" y2="592.5" stroke="#000" stroke-width="0.8" />
<line x1="255.11" y1="440" x2="255.11" y2="443" stroke="#000" stroke-width="0.8" />
<line x1="286.22" y1="595.5" x2="286.22" y2="592.5" stroke="#000" stroke-width="0.8" />
<line x1="286.22" y1="440" x2="286.22" y2="443" stroke="#000" stroke-width="0.8" />
<line x1="317.33" y1="595.5" x2="317.33" y2="592.5" stroke="#000" stroke-width="0.8" />
<line x1="317.33" y1="440" x2="317.33" y2="443" stroke="#000" stroke-width="0.8" />
<line x1="348.44" y1="595.5" x2="348.44" y2="592.5" stroke="#000" stroke-width="0.8" />
<line x1="348.44" y1="440" x2="348.44" y2="443" stroke="#000" stroke-width="0.8" />
<line x1="379.55" y1="595.5" x2="379.55" y2="592.5" stroke="#000" stroke-width="0.8" />
<line x1="379.55" y1="440" x2="379.55" y2="443" stroke="#000" stroke-width="0.8" />
<line x1="410.66" y1="595.5" x2="410.66" y2="592.5" stroke="#000" stroke-width="0.8" />
<line x1="410.66" y1="440" x2="410.66" y2="443" stroke="#000" stroke-width="0.8" />
<line x1="441.77" y1="595.5" x2="441.77" y2="592.5" stroke="#000" stroke-width="0.8" />
<line x1="441.77" y1="440" x2="441.77" y2="443" stroke="#000" stroke-width="0.8" />
<line x1="472.88" y1="595.5" x2="472.88" y2="592.5" stroke="#000" stroke-width="0.8" />
<line x1="472.88" y1="440" x2="472.88" y2="443" stroke="#000" stroke-width="0.8" />
<line x1="503.99" y1="595.5" x2="503.99" y2="592.5" stroke="#000" stroke-width="0.8" />
<line x1="503.99" y1="440" x2="503.99" y2="443" stroke="#000" stroke-width="0.8" />
<line x1="68.45" y1="595.5" x2="68.45" y2="589.5" stroke="#000" stroke-width="0.75" />
<line x1="68.45" y1="440" x2="68.45" y2="446" stroke="#000" stroke-width="0.75" />
<line x1="224" y1="595.5" x2="224" y2="589.5" stroke="#000" stroke-width="0.75" />
<line x1="224" y1="440" x2="224" y2="446" stroke="#000" stroke-width="0.75" />
<line x1="379.55" y1="595.5" x2="379.55" y2="589.5" stroke="#000" stroke-width="0.75" />
<line x1="379.55" y1="440" x2="379.55" y2="446" stroke="#000" stroke-width="0.75" />
<line x1="68.5" y1="592.44" x2="71.5" y2="592.44" stroke="#000" stroke-width="0.8" />
<line x1="504.5" y1="592.44" x2="501.5" y2="592.44" stroke="#000" stroke-width="0.8" />
<line x1="68.5" y1="580.01" x2="71.5" y2="580.01" stroke="#000" stroke-width="0.8" />
<line x1="504.5" y1="580.01" x2="501.5" y2="580.01" stroke="#000" stroke-width="0.8" />
<line x1="68.5" y1="567.58" x2="71.5" y2="567.58" stroke="#000" stroke-width="0.8" />
<line x1="504.5" y1="567.58" x2="501.5" y2="567.58" stroke="#000" stroke-width="0.8" />
<line x1="68.5" y1="555.15" x2="71.5" y2="555.15" stroke="#000" stroke-width="0.8" />
<line x1="504.5" y1="555.15" x2="501.5" y2="555.15" stroke="#000" stroke-width="0.8" />
<line x1="68.5" y1="542.71" x2="71.5" y2="542.71" stroke="#000" stroke-width="0.8" />
<line x1="504.5" y1="542.71" x2="501.5" y2="542.71" stroke="#000" stroke-width="0.8" />
<line x1="68.5" y1="530.28" x2="71.5" y2="530.28" stroke="#000" stroke-width="0.8" />
<line x1="504.5" y1="530.28" x2="501.5" y2="530.28" stroke="#000" stroke-width="0.8" />
<line x1="68.5" y1="517.85" x2="71.5" y2="517.85" stroke="#000" stroke-width="0.8" />
<line x1="504.5" y1="517.85" x2="501.5" y2="517.85" stroke="#000" stroke-width="0.8" />
<line x1="68.5" y1="505.42" x2="71.5" y2="505.42" stroke="#000" stroke-width="0.8" />
<line x1="504.5" y1="505.42" x2="501.5" y2="505.42" stroke="#000" stroke-width="0.8" />
<line x1="68.5" y1="492.99" x2="71.5" y2="492.99" stroke="#000" stroke-width="0.8" />
<line x1="504.5" y1="492.99" x2="501.5" y2="492.99" stroke="#000" stroke-width="0.8" />
<line x1="68.5" y1="480.55" x2="71.5" y2="480.55" stroke="#000" stroke-width="0.8" />
<line x1="504.5" y1="480.55" x2="501.5" y2="480.55" stroke="#000" stroke-width="0.8" />
<line x1="68.5" y1="468.12" x2="71.5" y2="468.12" stroke="#000" stroke-width="0.8" />
<line x1="504.5" y1="468.12" x2="501.5" y2="468.12" stroke="#000" stroke-width="0.8" />
<line x1="68.5" y1="455.69" x2="71.5" y2="455.69" stroke="#000" stroke-width="0.8" />
<line x1="504.5" y1="455.69" x2="501.5" y2="455.69" stroke="#000" stroke-width="0.8" />
<line x1="68.5" y1="443.26" x2="71.5" y2="443.26" stroke="#000" stroke-width="0.8" />
<line x1="504.5" y1="443.26" x2="501.5" y2="443.26" stroke="#000" stroke-width="0.8" />
<line x1="68.5" y1="455.69" x2="74.5" y2="455.69" stroke="#000" stroke-width="0.75" />
<line x1="504.5" y1="455.69" x2="498.5" y2="455.69" stroke="#000" stroke-width="0.75" />
<line x1="68.5" y1="517.85" x2="74.5" y2="517.85" stroke="#000" stroke-width="0.75" />
<line x1="504.5" y1="517.85" x2="498.5" y2="517.85" stroke="#000" stroke-width="0.75" />
<line x1="68.5" y1="580.01" x2="74.5" y2="580.01" stroke="#000" stroke-width="0.75" />
<line x1="504.5" y1="580.01" x2="498.5" y2="580.01" stroke="#000" stroke-width="0.75" />
</g>
<g id="panel1">
<g clip-path="url(#c1)">
<line x1="38.3" y1="323.36" x2="57.1" y2="323.26" stroke="#ff3030" stroke-width="1.3" />
<line x1="78.3" y1="323.15" x2="97.2" y2="323.05" stroke="#ff3030" stroke-width="1.3" />
<line x1="118.4" y1="322.94" x2="137.2" y2="322.85" stroke="#ff3030" stroke-width="1.3" />
<line x1="157.9" y1="322.74" x2="176.8" y2="322.64" stroke="#ff3030" stroke-width="1.3" />
<line x1="197.5" y1="322.52" x2="214.4" y2="322.42" stroke="#ff3030" stroke-width="1.3" />
<line x1="231.8" y1="322.31" x2="249.9" y2="322.18" stroke="#ff3030" stroke-width="1.3" />
<line x1="266.7" y1="322.04" x2="284.6" y2="321.87" stroke="#ff3030" stroke-width="1.3" />
<line x1="300.4" y1="321.71" x2="318.5" y2="321.53" stroke="#ff3030" stroke-width="1.3" />
<line x1="332.7" y1="321.38" x2="351" y2="321.2" stroke="#ff3030" stroke-width="1.3" />
<line x1="363.7" y1="321.07" x2="381.6" y2="320.89" stroke="#ff3030" stroke-width="1.3" />
<line x1="393.5" y1="320.77" x2="412.2" y2="320.58" stroke="#ff3030" stroke-width="1.3" />
<line x1="424.1" y1="320.46" x2="441.2" y2="320.28" stroke="#ff3030" stroke-width="1.3" />
<line x1="451.1" y1="320.18" x2="470.2" y2="319.98" stroke="#ff3030" stroke-width="1.3" />
<line x1="478.9" y1="319.88" x2="496.8" y2="319.7" stroke="#ff3030" stroke-width="1.3" />
<line x1="38.3" y1="338.44" x2="57.1" y2="338.54" stroke="#ff3030" stroke-width="1.3" />
<line x1="78.3" y1="338.65" x2="97.2" y2="338.75" stroke="#ff3030" stroke-width="1.3" />
<line x1="118.4" y1="338.86" x2="137.2" y2="338.95" stroke="#ff3030" stroke-width="1.3" />
<line x1="157.9" y1="339.06" x2="176.8" y2="339.16" stroke="#ff3030" stroke-width="1.3" />
<line x1="197.5" y1="339.28" x2="214.4" y2="339.38" stroke="#ff3030" stroke-width="1.3" />
<line x1="231.8" y1="339.49" x2="249.9" y2="339.62" stroke="#ff3030" stroke-width="1.3" />
<line x1="266.7" y1="339.76" x2="284.6" y2="339.93" stroke="#ff3030" stroke-width="1.3" />
<line x1="300.4" y1="340.09" x2="318.5" y2="340.27" stroke="#ff3030" stroke-width="1.3" />
<line x1="332.7" y1="340.42" x2="351" y2="340.6" stroke="#ff3030" stroke-width="1.3" />
<line x1="363.7" y1="340.73" x2="381.6" y2="340.91" stroke="#ff3030" stroke-width="1.3" />
<line x1="393.5" y1="341.03" x2="412.2" y2="341.22" stroke="#ff3030" stroke-width="1.3" />
<line x1="424.1" y1="341.34" x2="441.2" y2="341.52" stroke="#ff3030" stroke-width="1.3" />
<line x1="451.1" y1="341.62" x2="470.2" y2="341.82" stroke="#ff3030" stroke-width="1.3" />
<line x1="478.9" y1="341.92" x2="496.8" y2="342.1" stroke="#ff3030" stroke-width="1.3" />
<circle cx="70.5" cy="287.85" r="20.2" fill="none" stroke="#a52a2a" stroke-width="1.0"/>
<circle cx="113.2" cy="299.62" r="20.2" fill="none" stroke="#0000ff" stroke-width="1.0"/>
<circle cx="237.7" cy="333.95" r="20.2" fill="none" stroke="#ff00ff" stroke-width="1.0"/>
<circle cx="240.9" cy="334.83" r="20.2" fill="none" stroke="#ff00ff" stroke-width="1.0"/>
<circle cx="243.1" cy="335.44" r="20.2" fill="none" stroke="#ff00ff" stroke-width="1.0"/>
<circle cx="254.2" cy="338.5" r="20.2" fill="none" stroke="#ff00ff" stroke-width="1.0"/>
<circle cx="256.8" cy="339.21" r="20.2" fill="none" stroke="#ff00ff" stroke-width="1.0"/>
<circle cx="259.4" cy="339.93" r="20.2" fill="none" stroke="#ff00ff" stroke-width="1.0"/>
<circle cx="262" cy="340.65" r="20.2" fill="none" stroke="#ff00ff" stroke-width="1.0"/>
<circle cx="264.6" cy="341.36" r="20.2" fill="none" stroke="#ff00ff" stroke-width="1.0"/>
<circle cx="267.4" cy="342.13" r="20.2" fill="none" stroke="#ff00ff" stroke-width="1.0"/>
<circle cx="270.8" cy="343.07" r="20.2" fill="none" stroke="#ff00ff" stroke-width="1.0"/>
<circle cx="274.7" cy="344.15" r="20.2" fill="none" stroke="#ff00ff" stroke-width="1.0"/>
<circle cx="278.6" cy="345.22" r="20.2" fill="none" stroke="#ff00ff" stroke-width="1.0"/>
<circle cx="282.6" cy="346.32" r="20.2" fill="none" stroke="#ff00ff" stroke-width="1.0"/>
<circle cx="290.6" cy="348.53" r="20.2" fill="none" stroke="#ff00ff" stroke-width="1.0"/>
<circle cx="294.7" cy="349.66" r="20.2" fill="none" stroke="#ff00ff" stroke-width="1.0"/>
<circle cx="230.9" cy="332.07" r="20.2" fill="none" stroke="#00008b" stroke-width="1.0"/>
<circle cx="230.1" cy="331.85" r="20.2" fill="none" stroke="#a52a2a" stroke-width="1.0"/>
<circle cx="315.7" cy="355.45" r="20.2" fill="none" stroke="#ff6347" stroke-width="1.0"/>
<circle cx="510.4" cy="409.13" r="20.2" fill="none" stroke="#ff6347" stroke-width="1.0"/>
<line x1="68.5" y1="287.3" x2="504.5" y2="407.5" stroke="#000" stroke-width="1.0" />
</g>
<polygon fill="#000" points="255.31,270.84 319.52,287 317.98,293.11 342.8,290.8 322.04,277.01 320.5,283.12 256.29,266.96"/>
<rect x="68.5" y="253.0" width="436.0" height="155.5" fill="none" stroke="#000" stroke-width="0.72"/>
<line x1="68.5" y1="408.5" x2="68.5" y2="405.5" stroke="#000" stroke-width="0.8" />
<line x1="68.5" y1="253" x2="68.5" y2="256" stroke="#000" stroke-width="0.8" />
<line x1="93.4" y1="408.5" x2="93.4" y2="405.5" stroke="#000" stroke-width="0.8" />
<line x1="93.4" y1="253" x2="93.4" y2="256" stroke="#000" stroke-width="0.8" />
<line x1="118.3" y1="408.5" x2="118.3" y2="405.5" stroke="#000" stroke-width="0.8" />
<line x1="118.3" y1="253" x2="118.3" y2="256" stroke="#000" stroke-width="0.8" />
<line x1="143.2" y1="408.5" x2="143.2" y2="405.5" stroke="#000" stroke-width="0.8" />
<line x1="143.2" y1="253" x2="143.2" y2="256" stroke="#000" stroke-width="0.8" />
<line x1="168.1" y1="408.5" x2="168.1" y2="405.5" stroke="#000" stroke-width="0.8" />
<line x1="168.1" y1="253" x2="168.1" y2="256" stroke="#000" stroke-width="0.8" />
<line x1="193" y1="408.5" x2="193" y2="405.5" stroke="#000" stroke-width="0.8" />
<line x1="193" y1="253" x2="193" y2="256" stroke="#000" stroke-width="0.8" />
<line x1="217.9" y1="408.5" x2="217.9" y2="405.5" stroke="#000" stroke-width="0.8" />
<line x1="217.9" y1="253" x2="217.9" y2="256" stroke="#000" stroke-width="0.8" />
<line x1="242.8" y1="408.5" x2="242.8" y2="405.5" stroke="#000" stroke-width="0.8" />
<line x1="242.8" y1="253" x2="242.8" y2="256" stroke="#000" stroke-width="0.8" />
<line x1="267.7" y1="408.5" x2="267.7" y2="405.5" stroke="#000" stroke-width="0.8" />
<line x1="267.7" y1="253" x2="267.7" y2="256" stroke="#000" stroke-width="0.8" />
<line x1="292.6" y1="408.5" x2="292.6" y2="405.5" stroke="#000" stroke-width="0.8" />
<line x1="292.6" y1="253" x2="292.6" y2="256" stroke="#000" stroke-width="0.8" />
<line x1="317.5" y1="408.5" x2="317.5" y2="405.5" stroke="#000" stroke-width="0.8" />
<line x1="317.5" y1="253" x2="317.5" y2="256" stroke="#000" stroke-width="0.8" />
<line x1="342.4" y1="408.5" x2="342.4" y2="405.5" stroke="#000" stroke-width="0.8" />
<line x1="342.4" y1="253" x2="342.4" y2="256" stroke="#000" stroke-width="0.8" />
<line x1="367.3" y1="408.5" x2="367.3" y2="405.5" stroke="#000" stroke-width="0.8" />
<line x1="367.3" y1="253" x2="367.3" y2="256" stroke="#000" stroke-width="0.8" />
<line x1="392.2" y1="408.5" x2="392.2" y2="405.5" stroke="#000" stroke-width="0.8" />
<line x1="392.2" y1="253" x2="392.2" y2="256" stroke="#000" stroke-width="0.8" />
<line x1="417.1" y1="408.5" x2="417.1" y2="405.5" stroke="#000" stroke-width="0.8" />
<line x1="417.1" y1="253" x2="417.1" y2="256" stroke="#000" stroke-width="0.8" />
<line x1="442" y1="408.5" x2="442" y2="405.5" stroke="#000" stroke-width="0.8" />
<line x1="442" y1="253" x2="442" y2="256" stroke="#000" stroke-width="0.8" />
<line x1="466.9" y1="408.5" x2="466.9" y2="405.5" stroke="#000" stroke-width="0.8" />
<line x1="466.9" y1="253" x2="466.9" y2="256" stroke="#000" stroke-width="0.8" />
<line x1="491.8" y1="408.5" x2="491.8" y2="405.5" stroke="#000" stroke-width="0.8" />
<line x1="491.8" y1="253" x2="491.8" y2="256" stroke="#000" stroke-width="0.8" />
<line x1="68.5" y1="408.5" x2="68.5" y2="402.5" stroke="#000" stroke-width="0.75" />
<line x1="68.5" y1="253" x2="68.5" y2="259" stroke="#000" stroke-width="0.75" />
<line x1="193" y1="408.5" x2="193" y2="402.5" stroke="#000" stroke-width="0.75" />
<line x1="193" y1="253" x2="193" y2="259" stroke="#000" stroke-width="0.75" />
<line x1="317.5" y1="408.5" x2="317.5" y2="402.5" stroke="#000" stroke-width="0.75" />
<line x1="317.5" y1="253" x2="317.5" y2="259" stroke="#000" stroke-width="0.75" />
<line x1="442" y1="408.5" x2="442" y2="402.5" stroke="#000" stroke-width="0.75" />
<line x1="442" y1="253" x2="442" y2="259" stroke="#000" stroke-width="0.75" />
<line x1="68.5" y1="405.43" x2="71.5" y2="405.43" stroke="#000" stroke-width="0.8" />
<line x1="504.5" y1="405.43" x2="501.5" y2="405.43" stroke="#000" stroke-width="0.8" />
<line x1="68.5" y1="393" x2="71.5" y2="393" stroke="#000" stroke-width="0.8" />
<line x1="504.5" y1="393" x2="501.5" y2="393" stroke="#000" stroke-width="0.8" />
<line x1="68.5" y1="380.57" x2="71.5" y2="380.57" stroke="#000" stroke-width="0.8" />
<line x1="504.5" y1="380.57" x2="501.5" y2="380.57" stroke="#000" stroke-width="0.8" />
<line x1="68.5" y1="368.14" x2="71.5" y2="368.14" stroke="#000" stroke-width="0.8" />
<line x1="504.5" y1="368.14" x2="501.5" y2="368.14" stroke="#000" stroke-width="0.8" />
<line x1="68.5" y1="355.71" x2="71.5" y2="355.71" stroke="#000" stroke-width="0.8" />
<line x1="504.5" y1="355.71" x2="501.5" y2="355.71" stroke="#000" stroke-width="0.8" />
<line x1="68.5" y1="343.28" x2="71.5" y2="343.28" stroke="#000" stroke-width="0.8" />
<line x1="504.5" y1="343.28" x2="501.5" y2="343.28" stroke="#000" stroke-width="0.8" />
<line x1="68.5" y1="330.85" x2="71.5" y2="330.85" stroke="#000" stroke-width="0.8" />
<line x1="504.5" y1="330.85" x2="501.5" y2="330.85" stroke="#000" stroke-width="0.8" />
<line x1="68.5" y1="318.42" x2="71.5" y2="318.42" stroke="#000" stroke-width="0.8" />
<line x1="504.5" y1="318.42" x2="501.5" y2="318.42" stroke="#000" stroke-width="0.8" />
<line x1="68.5" y1="305.99" x2="71.5" y2="305.99" stroke="#000" stroke-width="0.8" />
<line x1="504.5" y1="305.99" x2="501.5" y2="305.99" stroke="#000" stroke-width="0.8" />
<line x1="68.5" y1="293.56" x2="71.5" y2="293.56" stroke="#000" stroke-width="0.8" />
<line x1="504.5" y1="293.56" x2="501.5" y2="293.56" stroke="#000" stroke-width="0.8" />
<line x1="68.5" y1="281.13" x2="71.5" y2="281.13" stroke="#000" stroke-width="0.8" />
<line x1="504.5" y1="281.13" x2="501.5" y2="281.13" stroke="#000" stroke-width="0.8" />
<line x1="68.5" y1="268.7" x2="71.5" y2="268.7" stroke="#000" stroke-width="0.8" />
<line x1="504.5" y1="268.7" x2="501.5" y2="268.7" stroke="#000" stroke-width="0.8" />
<line x1="68.5" y1="256.27" x2="71.5" y2="256.27" stroke="#000" stroke-width="0.8" />
<line x1="504.5" y1="256.27" x2="501.5" y2="256.27" stroke="#000" stroke-width="0.8" />
<line x1="68.5" y1="268.7" x2="74.5" y2="268.7" stroke="#000" stroke-width="0.75" />
<line x1="504.5" y1="268.7" x2="498.5" y2="268.7" stroke="#000" stroke-width="0.75" />
<line x1="68.5" y1="330.85" x2="74.5" y2="330.85" stroke="#000" stroke-width="0.75" />
<line x1="504.5" y1="330.85" x2="498.5" y2="330.85" stroke="#000" stroke-width="0.75" />
<line x1="68.5" y1="393" x2="74.5" y2="393" stroke="#000" stroke-width="0.75" />
<line x1="504.5" y1="393" x2="498.5" y2="393" stroke="#000" stroke-width="0.75" />
</g>
<g id="panel3">
<g clip-path="url(#c3)">
<line x1="49.8" y1="688.22" x2="68.5" y2="688.76" stroke="#ff3030" stroke-width="1.3" />
<line x1="75" y1="688.94" x2="93.6" y2="689.47" stroke="#ff3030" stroke-width="1.3" />
<line x1="100.2" y1="689.66" x2="118.9" y2="690.2" stroke="#ff3030" stroke-width="1.3" />
<line x1="125.4" y1="690.39" x2="144" y2="690.94" stroke="#ff3030" stroke-width="1.3" />
<line x1="150.6" y1="691.13" x2="169" y2="691.67" stroke="#ff3030" stroke-width="1.3" />
<line x1="175.8" y1="691.87" x2="193.4" y2="692.38" stroke="#ff3030" stroke-width="1.3" />
<line x1="199.9" y1="692.57" x2="218" y2="693.09" stroke="#ff3030" stroke-width="1.3" />
<line x1="225.2" y1="693.3" x2="244.4" y2="693.85" stroke="#ff3030" stroke-width="1.3" />
<line x1="251.2" y1="694.04" x2="268.1" y2="694.51" stroke="#ff3030" stroke-width="1.3" />
<line x1="274.9" y1="694.7" x2="294" y2="695.22" stroke="#ff3030" stroke-width="1.3" />
<line x1="300.3" y1="695.38" x2="318.9" y2="695.87" stroke="#ff3030" stroke-width="1.3" />
<line x1="325.2" y1="696.03" x2="343.3" y2="696.48" stroke="#ff3030" stroke-width="1.3" />
<line x1="349.6" y1="696.63" x2="367.7" y2="697.06" stroke="#ff3030" stroke-width="1.3" />
<line x1="373.1" y1="697.18" x2="391.9" y2="697.61" stroke="#ff3030" stroke-width="1.3" />
<line x1="396.9" y1="697.72" x2="415" y2="698.12" stroke="#ff3030" stroke-width="1.3" />
<line x1="419.9" y1="698.22" x2="437.7" y2="698.61" stroke="#ff3030" stroke-width="1.3" />
<line x1="442.6" y1="698.71" x2="460.3" y2="699.09" stroke="#ff3030" stroke-width="1.3" />
<line x1="464.7" y1="699.19" x2="483" y2="699.59" stroke="#ff3030" stroke-width="1.3" />
<line x1="486.7" y1="699.67" x2="506" y2="700.09" stroke="#ff3030" stroke-width="1.3" />
<line x1="49.8" y1="721.48" x2="68.5" y2="720.94" stroke="#ff3030" stroke-width="1.3" />
<line x1="75" y1="720.76" x2="93.6" y2="720.23" stroke="#ff3030" stroke-width="1.3" />
<line x1="100.2" y1="720.04" x2="118.9" y2="719.5" stroke="#ff3030" stroke-width="1.3" />
<line x1="125.4" y1="719.31" x2="144" y2="718.76" stroke="#ff3030" stroke-width="1.3" />
<line x1="150.6" y1="718.57" x2="169" y2="718.03" stroke="#ff3030" stroke-width="1.3" />
<line x1="175.8" y1="717.83" x2="193.4" y2="717.32" stroke="#ff3030" stroke-width="1.3" />
<line x1="199.9" y1="717.13" x2="218" y2="716.61" stroke="#ff3030" stroke-width="1.3" />
<line x1="225.2" y1="716.4" x2="244.4" y2="715.85" stroke="#ff3030" stroke-width="1.3" />
<line x1="251.2" y1="715.66" x2="268.1" y2="715.19" stroke="#ff3030" stroke-width="1.3" />
<line x1="274.9" y1="715" x2="294" y2="714.48" stroke="#ff3030" stroke-width="1.3" />
<line x1="300.3" y1="714.32" x2="318.9" y2="713.83" stroke="#ff3030" stroke-width="1.3" />
<line x1="325.2" y1="713.67" x2="343.3" y2="713.22" stroke="#ff3030" stroke-width="1.3" />
<line x1="349.6" y1="713.07" x2="367.7" y2="712.64" stroke="#ff3030" stroke-width="1.3" />
<line x1="373.1" y1="712.52" x2="391.9" y2="712.09" stroke="#ff3030" stroke-width="1.3" />
<line x1="396.9" y1="711.98" x2="415" y2="711.58" stroke="#ff3030" stroke-width="1.3" />
<line x1="419.9" y1="711.48" x2="437.7" y2="711.09" stroke="#ff3030" stroke-width="1.3" />
<line x1="442.6" y1="710.99" x2="460.3" y2="710.61" stroke="#ff3030" stroke-width="1.3" />
<line x1="464.7" y1="710.51" x2="483" y2="710.11" stroke="#ff3030" stroke-width="1.3" />
<line x1="486.7" y1="710.03" x2="506" y2="709.61" stroke="#ff3030" stroke-width="1.3" />
<circle cx="68.9" cy="660.71" r="18.9" fill="none" stroke="#a52a2a" stroke-width="1.0"/>
<circle cx="111.75" cy="672.48" r="18.9" fill="none" stroke="#0000ff" stroke-width="1.0"/>
<circle cx="236.7" cy="706.82" r="18.9" fill="none" stroke="#ff00ff" stroke-width="1.0"/>
<circle cx="239.4" cy="707.56" r="18.9" fill="none" stroke="#ff00ff" stroke-width="1.0"/>
<circle cx="241.6" cy="708.16" r="18.9" fill="none" stroke="#ff00ff" stroke-width="1.0"/>
<circle cx="253.8" cy="711.51" r="18.9" fill="none" stroke="#ff00ff" stroke-width="1.0"/>
<circle cx="256.4" cy="712.23" r="18.9" fill="none" stroke="#ff00ff" stroke-width="1.0"/>
<circle cx="259" cy="712.94" r="18.9" fill="none" stroke="#ff00ff" stroke-width="1.0"/>
<circle cx="261.6" cy="713.66" r="18.9" fill="none" stroke="#ff00ff" stroke-width="1.0"/>
<circle cx="264.2" cy="714.37" r="18.9" fill="none" stroke="#ff00ff" stroke-width="1.0"/>
<circle cx="267" cy="715.14" r="18.9" fill="none" stroke="#ff00ff" stroke-width="1.0"/>
<circle cx="270.4" cy="716.08" r="18.9" fill="none" stroke="#ff00ff" stroke-width="1.0"/>
<circle cx="274.3" cy="717.15" r="18.9" fill="none" stroke="#ff00ff" stroke-width="1.0"/>
<circle cx="278.2" cy="718.22" r="18.9" fill="none" stroke="#ff00ff" stroke-width="1.0"/>
<circle cx="282.2" cy="719.32" r="18.9" fill="none" stroke="#ff00ff" stroke-width="1.0"/>
<circle cx="290.2" cy="721.52" r="18.9" fill="none" stroke="#ff00ff" stroke-width="1.0"/>
<circle cx="294.3" cy="722.64" r="18.9" fill="none" stroke="#ff00ff" stroke-width="1.0"/>
<circle cx="230.7" cy="705.17" r="18.9" fill="none" stroke="#00008b" stroke-width="1.0"/>
<circle cx="229.9" cy="704.95" r="18.9" fill="none" stroke="#a52a2a" stroke-width="1.0"/>
<circle cx="314.7" cy="728.25" r="18.9" fill="none" stroke="#ff6347" stroke-width="1.0"/>
<circle cx="509.5" cy="781.77" r="18.9" fill="none" stroke="#ff6347" stroke-width="1.0"/>
<line x1="68.5" y1="660.6" x2="504.5" y2="780.4" stroke="#000" stroke-width="1.0" />
</g>
<polygon fill="#000" points="255.31,644.84 319.52,661 317.98,667.11 342.8,664.8 322.04,651.01 320.5,657.12 256.29,640.96"/>
<rect x="68.5" y="627.0" width="436.0" height="155.5" fill="none" stroke="#000" stroke-width="0.72"/>
<line x1="68.5" y1="782.5" x2="68.5" y2="779.5" stroke="#000" stroke-width="0.8" />
<line x1="68.5" y1="627" x2="68.5" y2="630" stroke="#000" stroke-width="0.8" />
<line x1="93.4" y1="782.5" x2="93.4" y2="779.5" stroke="#000" stroke-width="0.8" />
<line x1="93.4" y1="627" x2="93.4" y2="630" stroke="#000" stroke-width="0.8" />
<line x1="118.3" y1="782.5" x2="118.3" y2="779.5" stroke="#000" stroke-width="0.8" />
<line x1="118.3" y1="627" x2="118.3" y2="630" stroke="#000" stroke-width="0.8" />
<line x1="143.2" y1="782.5" x2="143.2" y2="779.5" stroke="#000" stroke-width="0.8" />
<line x1="143.2" y1="627" x2="143.2" y2="630" stroke="#000" stroke-width="0.8" />
<line x1="168.1" y1="782.5" x2="168.1" y2="779.5" stroke="#000" stroke-width="0.8" />
<line x1="168.1" y1="627" x2="168.1" y2="630" stroke="#000" stroke-width="0.8" />
<line x1="193" y1="782.5" x2="193" y2="779.5" stroke="#000" stroke-width="0.8" />
<line x1="193" y1="627" x2="193" y2="630" stroke="#000" stroke-width="0.8" />
<line x1="217.9" y1="782.5" x2="217.9" y2="779.5" stroke="#000" stroke-width="0.8" />
<line x1="217.9" y1="627" x2="217.9" y2="630" stroke="#000" stroke-width="0.8" />
<line x1="242.8" y1="782.5" x2="242.8" y2="779.5" stroke="#000" stroke-width="0.8" />
<line x1="242.8" y1="627" x2="242.8" y2="630" stroke="#000" stroke-width="0.8" />
<line x1="267.7" y1="782.5" x2="267.7" y2="779.5" stroke="#000" stroke-width="0.8" />
<line x1="267.7" y1="627" x2="267.7" y2="630" stroke="#000" stroke-width="0.8" />
<line x1="292.6" y1="782.5" x2="292.6" y2="779.5" stroke="#000" stroke-width="0.8" />
<line x1="292.6" y1="627" x2="292.6" y2="630" stroke="#000" stroke-width="0.8" />
<line x1="317.5" y1="782.5" x2="317.5" y2="779.5" stroke="#000" stroke-width="0.8" />
<line x1="317.5" y1="627" x2="317.5" y2="630" stroke="#000" stroke-width="0.8" />
<line x1="342.4" y1="782.5" x2="342.4" y2="779.5" stroke="#000" stroke-width="0.8" />
<line x1="342.4" y1="627" x2="342.4" y2="630" stroke="#000" stroke-width="0.8" />
<line x1="367.3" y1="782.5" x2="367.3" y2="779.5" stroke="#000" stroke-width="0.8" />
<line x1="367.3" y1="627" x2="367.3" y2="630" stroke="#000" stroke-width="0.8" />
<line x1="392.2" y1="782.5" x2="392.2" y2="779.5" stroke="#000" stroke-width="0.8" />
<line x1="392.2" y1="627" x2="392.2" y2="630" stroke="#000" stroke-width="0.8" />
<line x1="417.1" y1="782.5" x2="417.1" y2="779.5" stroke="#000" stroke-width="0.8" />
<line x1="417.1" y1="627" x2="417.1" y2="630" stroke="#000" stroke-width="0.8" />
<line x1="442" y1="782.5" x2="442" y2="779.5" stroke="#000" stroke-width="0.8" />
<line x1="442" y1="627" x2="442" y2="630" stroke="#000" stroke-width="0.8" />
<line x1="466.9" y1="782.5" x2="466.9" y2="779.5" stroke="#000" stroke-width="0.8" />
<line x1="466.9" y1="627" x2="466.9" y2="630" stroke="#000" stroke-width="0.8" />
<line x1="491.8" y1="782.5" x2="491.8" y2="779.5" stroke="#000" stroke-width="0.8" />
<line x1="491.8" y1="627" x2="491.8" y2="630" stroke="#000" stroke-width="0.8" />
<line x1="68.5" y1="782.5" x2="68.5" y2="776.5" stroke="#000" stroke-width="0.75" />
<line x1="68.5" y1="627" x2="68.5" y2="633" stroke="#000" stroke-width="0.75" />
<line x1="193" y1="782.5" x2="193" y2="776.5" stroke="#000" stroke-width="0.75" />
<line x1="193" y1="627" x2="193" y2="633" stroke="#000" stroke-width="0.75" />
<line x1="317.5" y1="782.5" x2="317.5" y2="776.5" stroke="#000" stroke-width="0.75" />
<line x1="317.5" y1="627" x2="317.5" y2="633" stroke="#000" stroke-width="0.75" />
<line x1="442" y1="782.5" x2="442" y2="776.5" stroke="#000" stroke-width="0.75" />
<line x1="442" y1="627" x2="442" y2="633" stroke="#000" stroke-width="0.75" />
<line x1="68.5" y1="779.43" x2="71.5" y2="779.43" stroke="#000" stroke-width="0.8" />
<line x1="504.5" y1="779.43" x2="501.5" y2="779.43" stroke="#000" stroke-width="0.8" />
<line x1="68.5" y1="767" x2="71.5" y2="767" stroke="#000" stroke-width="0.8" />
<line x1="504.5" y1="767" x2="501.5" y2="767" stroke="#000" stroke-width="0.8" />
<line x1="68.5" y1="754.57" x2="71.5" y2="754.57" stroke="#000" stroke-width="0.8" />
<line x1="504.5" y1="754.57" x2="501.5" y2="754.57" stroke="#000" stroke-width="0.8" />
<line x1="68.5" y1="742.14" x2="71.5" y2="742.14" stroke="#000" stroke-width="0.8" />
<line x1="504.5" y1="742.14" x2="501.5" y2="742.14" stroke="#000" stroke-width="0.8" />
<line x1="68.5" y1="729.71" x2="71.5" y2="729.71" stroke="#000" stroke-width="0.8" />
<line x1="504.5" y1="729.71" x2="501.5" y2="729.71" stroke="#000" stroke-width="0.8" />
<line x1="68.5" y1="717.28" x2="71.5" y2="717.28" stroke="#000" stroke-width="0.8" />
<line x1="504.5" y1="717.28" x2="501.5" y2="717.28" stroke="#000" stroke-width="0.8" />
<line x1="68.5" y1="704.85" x2="71.5" y2="704.85" stroke="#000" stroke-width="0.8" />
<line x1="504.5" y1="704.85" x2="501.5" y2="704.85" stroke="#000" stroke-width="0.8" />
<line x1="68.5" y1="692.42" x2="71.5" y2="692.42" stroke="#000" stroke-width="0.8" />
<line x1="504.5" y1="692.42" x2="501.5" y2="692.42" stroke="#000" stroke-width="0.8" />
<line x1="68.5" y1="679.99" x2="71.5" y2="679.99" stroke="#000" stroke-width="0.8" />
<line x1="504.5" y1="679.99" x2="501.5" y2="679.99" stroke="#000" stroke-width="0.8" />
<line x1="68.5" y1="667.56" x2="71.5" y2="667.56" stroke="#000" stroke-width="0.8" />
<line x1="504.5" y1="667.56" x2="501.5" y2="667.56" stroke="#000" stroke-width="0.8" />
<line x1="68.5" y1="655.13" x2="71.5" y2="655.13" stroke="#000" stroke-width="0.8" />
<line x1="504.5" y1="655.13" x2="501.5" y2="655.13" stroke="#000" stroke-width="0.8" />
<line x1="68.5" y1="642.7" x2="71.5" y2="642.7" stroke="#000" stroke-width="0.8" />
<line x1="504.5" y1="642.7" x2="501.5" y2="642.7" stroke="#000" stroke-width="0.8" />
<line x1="68.5" y1="630.27" x2="71.5" y2="630.27" stroke="#000" stroke-width="0.8" />
<line x1="504.5" y1="630.27" x2="501.5" y2="630.27" stroke="#000" stroke-width="0.8" />
<line x1="68.5" y1="642.7" x2="74.5" y2="642.7" stroke="#000" stroke-width="0.75" />
<line x1="504.5" y1="642.7" x2="498.5" y2="642.7" stroke="#000" stroke-width="0.75" />
<line x1="68.5" y1="704.85" x2="74.5" y2="704.85" stroke="#000" stroke-width="0.75" />
<line x1="504.5" y1="704.85" x2="498.5" y2="704.85" stroke="#000" stroke-width="0.75" />
<line x1="68.5" y1="767" x2="74.5" y2="767" stroke="#000" stroke-width="0.75" />
<line x1="504.5" y1="767" x2="498.5" y2="767" stroke="#000" stroke-width="0.75" />
</g>
<g filter="url(#bold)">
<text x="72.2" y="19.9" font-size="12.55" fill="#000000" text-anchor="start" >OGLE</text>
<text x="142.2" y="19.9" font-size="12.55" fill="#808080" text-anchor="start" >MOA</text>
<text x="212.2" y="19.9" font-size="12.55" fill="#ff6347" text-anchor="start" >KMTA31</text>
<text x="281.8" y="19.9" font-size="12.55" fill="#0000ff" text-anchor="start" >KMTC31</text>
<text x="351.6" y="19.9" font-size="12.55" fill="#008000" text-anchor="start" >KMTS31</text>
<text x="421.2" y="19.9" font-size="12.55" fill="#00008b" text-anchor="start" >LCOA01</text>
<text x="72.2" y="43.2" font-size="12.55" fill="#bfbf00" text-anchor="start" >LCOA02</text>
<text x="142.2" y="43.2" font-size="12.55" fill="#ffc0cb" text-anchor="start" >LCOS</text>
<text x="212.2" y="43.2" font-size="12.55" fill="#a52a2a" text-anchor="start" >CT13</text>
<text x="281.8" y="43.2" font-size="12.55" fill="#ff00ff" text-anchor="start" >Kumeu</text>
<text x="351.6" y="43.2" font-size="12.55" fill="#800080" text-anchor="start" >AO</text>
<text x="421.2" y="43.2" font-size="12.55" fill="#ffa500" text-anchor="start" >FCO</text>
<text x="439" y="88.5" font-size="16.9" fill="#000" text-anchor="start" >s&gt;1</text>
<text x="68.25" y="233.3" font-size="11.9" fill="#000" text-anchor="middle" >−0.05</text>
<text x="223.8" y="233.3" font-size="11.9" fill="#000" text-anchor="middle" >0.00</text>
<text x="379.35" y="233.3" font-size="11.9" fill="#000" text-anchor="middle" >0.05</text>
<text x="65.6" y="86.19" font-size="11.9" fill="#000" text-anchor="end" >0.02</text>
<text x="65.6" y="148.35" font-size="11.9" fill="#000" text-anchor="end" >0.00</text>
<text x="65.6" y="210.51" font-size="11.9" fill="#000" text-anchor="end" >−0.02</text>
<text transform="translate(23.2,149.55) rotate(-90)" font-family="'Liberation Serif',serif" font-size="14.2" fill="#000"><tspan font-style="italic">y</tspan><tspan font-size="9.8" dy="2">S</tspan></text>
<text x="439" y="462.5" font-size="16.9" fill="#000" text-anchor="start" >s&lt;1</text>
<text x="68.25" y="607.3" font-size="11.9" fill="#000" text-anchor="middle" >−0.05</text>
<text x="223.8" y="607.3" font-size="11.9" fill="#000" text-anchor="middle" >0.00</text>
<text x="379.35" y="607.3" font-size="11.9" fill="#000" text-anchor="middle" >0.05</text>
<text x="65.6" y="460.19" font-size="11.9" fill="#000" text-anchor="end" >0.02</text>
<text x="65.6" y="522.35" font-size="11.9" fill="#000" text-anchor="end" >0.00</text>
<text x="65.6" y="584.51" font-size="11.9" fill="#000" text-anchor="end" >−0.02</text>
<text transform="translate(23.2,523.55) rotate(-90)" font-family="'Liberation Serif',serif" font-size="14.2" fill="#000"><tspan font-style="italic">y</tspan><tspan font-size="9.8" dy="2">S</tspan></text>
<text x="439" y="275.4" font-size="16.9" fill="#000" text-anchor="start" >s&gt;1</text>
<text x="68.3" y="420.3" font-size="11.9" fill="#000" text-anchor="middle" >0.020</text>
<text x="192.8" y="420.3" font-size="11.9" fill="#000" text-anchor="middle" >0.022</text>
<text x="317.3" y="420.3" font-size="11.9" fill="#000" text-anchor="middle" >0.024</text>
<text x="441.8" y="420.3" font-size="11.9" fill="#000" text-anchor="middle" >0.026</text>
<text x="65.6" y="273.2" font-size="11.9" fill="#000" text-anchor="end" >0.001</text>
<text x="65.6" y="335.35" font-size="11.9" fill="#000" text-anchor="end" >0.000</text>
<text x="65.6" y="397.5" font-size="11.9" fill="#000" text-anchor="end" >-0.001</text>
<text transform="translate(23.2,336.55) rotate(-90)" font-family="'Liberation Serif',serif" font-size="14.2" fill="#000"><tspan font-style="italic">y</tspan><tspan font-size="9.8" dy="2">S</tspan></text>
<text x="439" y="649.4" font-size="16.9" fill="#000" text-anchor="start" >s&lt;1</text>
<text x="68.3" y="794.3" font-size="11.9" fill="#000" text-anchor="middle" >0.020</text>
<text x="192.8" y="794.3" font-size="11.9" fill="#000" text-anchor="middle" >0.022</text>
<text x="317.3" y="794.3" font-size="11.9" fill="#000" text-anchor="middle" >0.024</text>
<text x="441.8" y="794.3" font-size="11.9" fill="#000" text-anchor="middle" >0.026</text>
<text x="65.6" y="647.2" font-size="11.9" fill="#000" text-anchor="end" >0.001</text>
<text x="65.6" y="709.35" font-size="11.9" fill="#000" text-anchor="end" >0.000</text>
<text x="65.6" y="771.5" font-size="11.9" fill="#000" text-anchor="end" >-0.001</text>
<text transform="translate(23.2,710.55) rotate(-90)" font-family="'Liberation Serif',serif" font-size="14.2" fill="#000"><tspan font-style="italic">y</tspan><tspan font-size="9.8" dy="2">S</tspan></text>
<text x="279.4" y="811" font-family="'Liberation Serif',serif" font-size="14.2" fill="#000"><tspan font-style="italic">x</tspan><tspan font-size="9.8" dy="2">S</tspan></text>
</g>
</svg>
</body></html>
